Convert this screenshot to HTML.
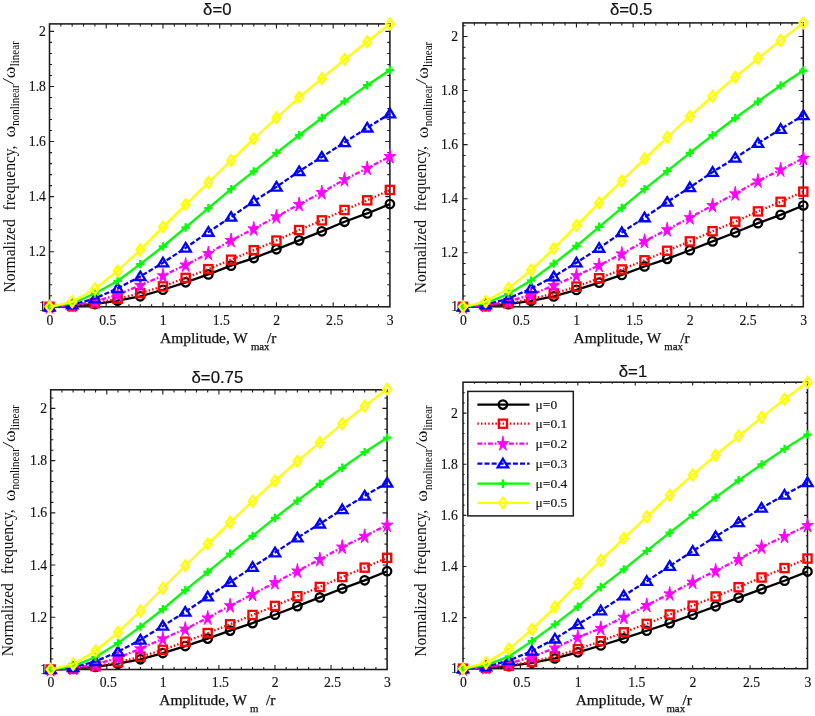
<!DOCTYPE html>
<html lang="en">
<head>
<meta charset="utf-8">
<title>Normalized frequency versus amplitude</title>
<style>
html,body{margin:0;padding:0;background:#fff;}
body{width:815px;height:716px;overflow:hidden;}
svg{display:block;}
</style>
</head>
<body>
<svg width="815" height="716" viewBox="0 0 815 716">
<rect width="815" height="716" fill="#ffffff"/>
<path d="M60.85 306.8v-2.6M60.85 23.9v2.6M72.19 306.8v-2.6M72.19 23.9v2.6M83.54 306.8v-2.6M83.54 23.9v2.6M94.89 306.8v-2.6M94.89 23.9v2.6M106.23 306.8v-4.6M106.23 23.9v4.6M117.58 306.8v-2.6M117.58 23.9v2.6M128.93 306.8v-2.6M128.93 23.9v2.6M140.27 306.8v-2.6M140.27 23.9v2.6M151.62 306.8v-2.6M151.62 23.9v2.6M162.97 306.8v-4.6M162.97 23.9v4.6M174.31 306.8v-2.6M174.31 23.9v2.6M185.66 306.8v-2.6M185.66 23.9v2.6M197.01 306.8v-2.6M197.01 23.9v2.6M208.35 306.8v-2.6M208.35 23.9v2.6M219.7 306.8v-4.6M219.7 23.9v4.6M231.05 306.8v-2.6M231.05 23.9v2.6M242.39 306.8v-2.6M242.39 23.9v2.6M253.74 306.8v-2.6M253.74 23.9v2.6M265.09 306.8v-2.6M265.09 23.9v2.6M276.43 306.8v-4.6M276.43 23.9v4.6M287.78 306.8v-2.6M287.78 23.9v2.6M299.13 306.8v-2.6M299.13 23.9v2.6M310.47 306.8v-2.6M310.47 23.9v2.6M321.82 306.8v-2.6M321.82 23.9v2.6M333.17 306.8v-4.6M333.17 23.9v4.6M344.51 306.8v-2.6M344.51 23.9v2.6M355.86 306.8v-2.6M355.86 23.9v2.6M367.21 306.8v-2.6M367.21 23.9v2.6M378.55 306.8v-2.6M378.55 23.9v2.6M49.5 295.78h2.6M389.9 295.78h-2.6M49.5 284.77h2.6M389.9 284.77h-2.6M49.5 273.75h2.6M389.9 273.75h-2.6M49.5 262.74h2.6M389.9 262.74h-2.6M49.5 251.72h4.6M389.9 251.72h-4.6M49.5 240.7h2.6M389.9 240.7h-2.6M49.5 229.69h2.6M389.9 229.69h-2.6M49.5 218.67h2.6M389.9 218.67h-2.6M49.5 207.66h2.6M389.9 207.66h-2.6M49.5 196.64h4.6M389.9 196.64h-4.6M49.5 185.62h2.6M389.9 185.62h-2.6M49.5 174.61h2.6M389.9 174.61h-2.6M49.5 163.59h2.6M389.9 163.59h-2.6M49.5 152.58h2.6M389.9 152.58h-2.6M49.5 141.56h4.6M389.9 141.56h-4.6M49.5 130.54h2.6M389.9 130.54h-2.6M49.5 119.53h2.6M389.9 119.53h-2.6M49.5 108.51h2.6M389.9 108.51h-2.6M49.5 97.5h2.6M389.9 97.5h-2.6M49.5 86.48h4.6M389.9 86.48h-4.6M49.5 75.46h2.6M389.9 75.46h-2.6M49.5 64.45h2.6M389.9 64.45h-2.6M49.5 53.43h2.6M389.9 53.43h-2.6M49.5 42.42h2.6M389.9 42.42h-2.6M49.5 31.4h4.6M389.9 31.4h-4.6" stroke="#1c1c1c" stroke-width="1.1" fill="none"/>
<rect x="49.5" y="23.9" width="340.4" height="282.9" fill="none" stroke="#1c1c1c" stroke-width="1.55"/>
<g font-family="'Liberation Serif', serif" font-size="13.7" fill="#111" stroke="#111" stroke-width="0.15">
<text x="49.8" y="325" text-anchor="middle">0</text>
<text x="107.73" y="325" text-anchor="middle">0.5</text>
<text x="163.27" y="325" text-anchor="middle">1</text>
<text x="221.2" y="325" text-anchor="middle">1.5</text>
<text x="276.73" y="325" text-anchor="middle">2</text>
<text x="334.67" y="325" text-anchor="middle">2.5</text>
<text x="390.2" y="325" text-anchor="middle">3</text>
<text x="45.9" y="311.3" text-anchor="end">1</text>
<text x="45.9" y="256.22" text-anchor="end">1.2</text>
<text x="45.9" y="201.14" text-anchor="end">1.4</text>
<text x="45.9" y="146.06" text-anchor="end">1.6</text>
<text x="45.9" y="90.98" text-anchor="end">1.8</text>
<text x="45.9" y="35.9" text-anchor="end">2</text>
</g>
<text x="217.3" y="14.7" text-anchor="middle" font-family="'Liberation Sans', sans-serif" font-size="16.8" fill="#111" stroke="#111" stroke-width="0.2">δ=0</text>
<text y="342.8" font-family="'Liberation Serif', serif" font-size="15.4" fill="#111" stroke="#111" stroke-width="0.25"><tspan x="160.1">Amplitude, W</tspan><tspan x="250.9" dy="7" font-size="10.8">max</tspan><tspan x="266.9" dy="-7">/r</tspan></text>
<g transform="rotate(-90)" font-family="'Liberation Serif', serif" fill="#111">
<text x="-292.55" y="14.5" font-size="15.9" textLength="73.2" lengthAdjust="spacingAndGlyphs">Normalized</text>
<text x="-210.55" y="14.5" font-size="15.9" textLength="65" lengthAdjust="spacingAndGlyphs">frequency,</text>
<text x="-137.55" y="15" font-size="17" textLength="11.6" lengthAdjust="spacingAndGlyphs">ω</text>
<text x="-125.75" y="19.4" font-size="11.6" textLength="41.4" lengthAdjust="spacingAndGlyphs">nonlinear</text>
<text x="-84.15" y="13.4" font-size="15.5" textLength="6.3" lengthAdjust="spacingAndGlyphs">/</text>
<text x="-78.15" y="15" font-size="17" textLength="11.6" lengthAdjust="spacingAndGlyphs">ω</text>
<text x="-66.35" y="19.4" font-size="11.6" textLength="25.2" lengthAdjust="spacingAndGlyphs">linear</text>
</g>
<polyline points="49.5,306.8 72.19,306.11 94.89,304.05 117.58,300.74 140.27,296.33 162.97,289.73 185.66,282.34 208.35,274.44 231.05,265.63 253.74,258.05 276.43,249.32 299.13,240.35 321.82,231.34 344.51,221.78 367.21,213.44 389.9,204.08" fill="none" stroke="#000000" stroke-width="2.3"/>
<circle cx="49.5" cy="306.8" r="4.2" fill="none" stroke="#000000" stroke-width="2.3"/>
<circle cx="72.19" cy="306.11" r="4.2" fill="none" stroke="#000000" stroke-width="2.3"/>
<circle cx="94.89" cy="304.05" r="4.2" fill="none" stroke="#000000" stroke-width="2.3"/>
<circle cx="117.58" cy="300.74" r="4.2" fill="none" stroke="#000000" stroke-width="2.3"/>
<circle cx="140.27" cy="296.33" r="4.2" fill="none" stroke="#000000" stroke-width="2.3"/>
<circle cx="162.97" cy="289.73" r="4.2" fill="none" stroke="#000000" stroke-width="2.3"/>
<circle cx="185.66" cy="282.34" r="4.2" fill="none" stroke="#000000" stroke-width="2.3"/>
<circle cx="208.35" cy="274.44" r="4.2" fill="none" stroke="#000000" stroke-width="2.3"/>
<circle cx="231.05" cy="265.63" r="4.2" fill="none" stroke="#000000" stroke-width="2.3"/>
<circle cx="253.74" cy="258.05" r="4.2" fill="none" stroke="#000000" stroke-width="2.3"/>
<circle cx="276.43" cy="249.32" r="4.2" fill="none" stroke="#000000" stroke-width="2.3"/>
<circle cx="299.13" cy="240.35" r="4.2" fill="none" stroke="#000000" stroke-width="2.3"/>
<circle cx="321.82" cy="231.34" r="4.2" fill="none" stroke="#000000" stroke-width="2.3"/>
<circle cx="344.51" cy="221.78" r="4.2" fill="none" stroke="#000000" stroke-width="2.3"/>
<circle cx="367.21" cy="213.44" r="4.2" fill="none" stroke="#000000" stroke-width="2.3"/>
<circle cx="389.9" cy="204.08" r="4.2" fill="none" stroke="#000000" stroke-width="2.3"/>
<polyline points="49.5,306.8 72.19,305.97 94.89,303.22 117.58,298.81 140.27,293.17 162.97,286.42 185.66,277.88 208.35,269.15 231.05,259.71 253.74,250.18 276.43,240.57 299.13,230.05 321.82,220.38 344.51,209.97 367.21,200.33 389.9,189.92" fill="none" stroke="#ff0000" stroke-width="2.3" stroke-dasharray="1.5 2.1"/>
<rect x="45.4" y="302.7" width="8.2" height="8.2" fill="none" stroke="#ff0000" stroke-width="2.3"/>
<rect x="68.09" y="301.87" width="8.2" height="8.2" fill="none" stroke="#ff0000" stroke-width="2.3"/>
<rect x="90.79" y="299.12" width="8.2" height="8.2" fill="none" stroke="#ff0000" stroke-width="2.3"/>
<rect x="113.48" y="294.71" width="8.2" height="8.2" fill="none" stroke="#ff0000" stroke-width="2.3"/>
<rect x="136.17" y="289.07" width="8.2" height="8.2" fill="none" stroke="#ff0000" stroke-width="2.3"/>
<rect x="158.87" y="282.32" width="8.2" height="8.2" fill="none" stroke="#ff0000" stroke-width="2.3"/>
<rect x="181.56" y="273.78" width="8.2" height="8.2" fill="none" stroke="#ff0000" stroke-width="2.3"/>
<rect x="204.25" y="265.05" width="8.2" height="8.2" fill="none" stroke="#ff0000" stroke-width="2.3"/>
<rect x="226.95" y="255.61" width="8.2" height="8.2" fill="none" stroke="#ff0000" stroke-width="2.3"/>
<rect x="249.64" y="246.08" width="8.2" height="8.2" fill="none" stroke="#ff0000" stroke-width="2.3"/>
<rect x="272.33" y="236.47" width="8.2" height="8.2" fill="none" stroke="#ff0000" stroke-width="2.3"/>
<rect x="295.03" y="225.95" width="8.2" height="8.2" fill="none" stroke="#ff0000" stroke-width="2.3"/>
<rect x="317.72" y="216.28" width="8.2" height="8.2" fill="none" stroke="#ff0000" stroke-width="2.3"/>
<rect x="340.41" y="205.87" width="8.2" height="8.2" fill="none" stroke="#ff0000" stroke-width="2.3"/>
<rect x="363.11" y="196.23" width="8.2" height="8.2" fill="none" stroke="#ff0000" stroke-width="2.3"/>
<rect x="385.8" y="185.82" width="8.2" height="8.2" fill="none" stroke="#ff0000" stroke-width="2.3"/>
<polyline points="49.5,306.8 72.19,305.42 94.89,301.57 117.58,294.68 140.27,285.32 162.97,275.68 185.66,264.94 208.35,253.43 231.05,240.43 253.74,228.86 276.43,216.74 299.13,204.35 321.82,192.51 344.51,179.57 367.21,168.27 389.9,156.49" fill="none" stroke="#ff00ff" stroke-width="2.3" stroke-dasharray="5 1.9 1.7 1.9"/>
<polygon points="49.5,299.4 50.7,305.05 55.21,304.79 51.44,308.02 53.03,313.51 49.5,309.85 45.97,313.51 47.56,308.02 43.79,304.79 48.3,305.05" fill="#ff00ff" stroke="#ff00ff" stroke-width="1" stroke-linejoin="miter"/>
<polygon points="72.19,298.02 73.39,303.68 77.9,303.41 74.13,306.64 75.72,312.13 72.19,308.48 68.67,312.13 70.25,306.64 66.49,303.41 70.99,303.68" fill="#ff00ff" stroke="#ff00ff" stroke-width="1" stroke-linejoin="miter"/>
<polygon points="94.89,294.17 96.09,299.82 100.59,299.56 96.83,302.79 98.41,308.28 94.89,304.62 91.36,308.28 92.95,302.79 89.18,299.56 93.69,299.82" fill="#ff00ff" stroke="#ff00ff" stroke-width="1" stroke-linejoin="miter"/>
<polygon points="117.58,287.28 118.78,292.94 123.29,292.67 119.52,295.9 121.11,301.39 117.58,297.73 114.05,301.39 115.64,295.9 111.87,292.67 116.38,292.94" fill="#ff00ff" stroke="#ff00ff" stroke-width="1" stroke-linejoin="miter"/>
<polygon points="140.27,277.92 141.47,283.57 145.98,283.31 142.21,286.54 143.8,292.03 140.27,288.37 136.75,292.03 138.33,286.54 134.57,283.31 139.07,283.57" fill="#ff00ff" stroke="#ff00ff" stroke-width="1" stroke-linejoin="miter"/>
<polygon points="162.97,268.28 164.17,273.93 168.67,273.67 164.91,276.9 166.49,282.39 162.97,278.73 159.44,282.39 161.03,276.9 157.26,273.67 161.77,273.93" fill="#ff00ff" stroke="#ff00ff" stroke-width="1" stroke-linejoin="miter"/>
<polygon points="185.66,257.54 186.86,263.19 191.37,262.93 187.6,266.16 189.19,271.65 185.66,267.99 182.13,271.65 183.72,266.16 179.95,262.93 184.46,263.19" fill="#ff00ff" stroke="#ff00ff" stroke-width="1" stroke-linejoin="miter"/>
<polygon points="208.35,246.03 209.55,251.68 214.06,251.42 210.29,254.65 211.88,260.14 208.35,256.48 204.83,260.14 206.41,254.65 202.65,251.42 207.15,251.68" fill="#ff00ff" stroke="#ff00ff" stroke-width="1" stroke-linejoin="miter"/>
<polygon points="231.05,233.03 232.25,238.68 236.75,238.42 232.99,241.65 234.57,247.14 231.05,243.48 227.52,247.14 229.11,241.65 225.34,238.42 229.85,238.68" fill="#ff00ff" stroke="#ff00ff" stroke-width="1" stroke-linejoin="miter"/>
<polygon points="253.74,221.46 254.94,227.12 259.45,226.85 255.68,230.08 257.27,235.57 253.74,231.91 250.21,235.57 251.8,230.08 248.03,226.85 252.54,227.12" fill="#ff00ff" stroke="#ff00ff" stroke-width="1" stroke-linejoin="miter"/>
<polygon points="276.43,209.34 277.63,215 282.14,214.73 278.37,217.96 279.96,223.45 276.43,219.8 272.91,223.45 274.49,217.96 270.73,214.73 275.23,215" fill="#ff00ff" stroke="#ff00ff" stroke-width="1" stroke-linejoin="miter"/>
<polygon points="299.13,196.95 300.33,202.61 304.83,202.34 301.07,205.57 302.65,211.06 299.13,207.4 295.6,211.06 297.19,205.57 293.42,202.34 297.93,202.61" fill="#ff00ff" stroke="#ff00ff" stroke-width="1" stroke-linejoin="miter"/>
<polygon points="321.82,185.11 323.02,190.76 327.53,190.5 323.76,193.73 325.35,199.22 321.82,195.56 318.29,199.22 319.88,193.73 316.11,190.5 320.62,190.76" fill="#ff00ff" stroke="#ff00ff" stroke-width="1" stroke-linejoin="miter"/>
<polygon points="344.51,172.17 345.71,177.82 350.22,177.55 346.45,180.78 348.04,186.28 344.51,182.62 340.99,186.28 342.57,180.78 338.81,177.55 343.31,177.82" fill="#ff00ff" stroke="#ff00ff" stroke-width="1" stroke-linejoin="miter"/>
<polygon points="367.21,160.87 368.41,166.53 372.91,166.26 369.15,169.49 370.73,174.98 367.21,171.33 363.68,174.98 365.27,169.49 361.5,166.26 366.01,166.53" fill="#ff00ff" stroke="#ff00ff" stroke-width="1" stroke-linejoin="miter"/>
<polygon points="389.9,149.09 391.1,154.74 395.61,154.48 391.84,157.71 393.43,163.2 389.9,159.54 386.37,163.2 387.96,157.71 384.19,154.48 388.7,154.74" fill="#ff00ff" stroke="#ff00ff" stroke-width="1" stroke-linejoin="miter"/>
<polyline points="49.5,306.8 72.19,304.6 94.89,298.54 117.58,288.35 140.27,276.51 162.97,262.74 185.66,247.86 208.35,232.03 231.05,217.02 253.74,201.32 276.43,186.86 299.13,171.3 321.82,156.98 344.51,142.39 367.21,127.79 389.9,113.61" fill="none" stroke="#0000ff" stroke-width="2.3" stroke-dasharray="5 2.1"/>
<polygon points="49.5,301.9 54.7,310.5 44.3,310.5" fill="none" stroke="#0000ff" stroke-width="2.3" stroke-linejoin="miter"/>
<polygon points="72.19,299.7 77.39,308.3 66.99,308.3" fill="none" stroke="#0000ff" stroke-width="2.3" stroke-linejoin="miter"/>
<polygon points="94.89,293.64 100.09,302.24 89.69,302.24" fill="none" stroke="#0000ff" stroke-width="2.3" stroke-linejoin="miter"/>
<polygon points="117.58,283.45 122.78,292.05 112.38,292.05" fill="none" stroke="#0000ff" stroke-width="2.3" stroke-linejoin="miter"/>
<polygon points="140.27,271.61 145.47,280.21 135.07,280.21" fill="none" stroke="#0000ff" stroke-width="2.3" stroke-linejoin="miter"/>
<polygon points="162.97,257.84 168.17,266.44 157.77,266.44" fill="none" stroke="#0000ff" stroke-width="2.3" stroke-linejoin="miter"/>
<polygon points="185.66,242.96 190.86,251.56 180.46,251.56" fill="none" stroke="#0000ff" stroke-width="2.3" stroke-linejoin="miter"/>
<polygon points="208.35,227.13 213.55,235.73 203.15,235.73" fill="none" stroke="#0000ff" stroke-width="2.3" stroke-linejoin="miter"/>
<polygon points="231.05,212.12 236.25,220.72 225.85,220.72" fill="none" stroke="#0000ff" stroke-width="2.3" stroke-linejoin="miter"/>
<polygon points="253.74,196.42 258.94,205.02 248.54,205.02" fill="none" stroke="#0000ff" stroke-width="2.3" stroke-linejoin="miter"/>
<polygon points="276.43,181.96 281.63,190.56 271.23,190.56" fill="none" stroke="#0000ff" stroke-width="2.3" stroke-linejoin="miter"/>
<polygon points="299.13,166.4 304.33,175 293.93,175" fill="none" stroke="#0000ff" stroke-width="2.3" stroke-linejoin="miter"/>
<polygon points="321.82,152.08 327.02,160.68 316.62,160.68" fill="none" stroke="#0000ff" stroke-width="2.3" stroke-linejoin="miter"/>
<polygon points="344.51,137.49 349.71,146.09 339.31,146.09" fill="none" stroke="#0000ff" stroke-width="2.3" stroke-linejoin="miter"/>
<polygon points="367.21,122.89 372.41,131.49 362.01,131.49" fill="none" stroke="#0000ff" stroke-width="2.3" stroke-linejoin="miter"/>
<polygon points="389.9,108.71 395.1,117.31 384.7,117.31" fill="none" stroke="#0000ff" stroke-width="2.3" stroke-linejoin="miter"/>
<polyline points="49.5,306.8 72.19,303.5 94.89,293.58 117.58,280.91 140.27,264.11 162.97,246.49 185.66,227.48 208.35,208.21 231.05,189.2 253.74,171.41 276.43,152.85 299.13,135.23 321.82,118.01 344.51,101.35 367.21,85.19 389.9,69.96" fill="none" stroke="#00ff00" stroke-width="2.3"/>
<path d="M45.3 306.8H53.7M49.5 302.6V311" fill="none" stroke="#00ff00" stroke-width="2.3"/>
<path d="M67.99 303.5H76.39M72.19 299.3V307.7" fill="none" stroke="#00ff00" stroke-width="2.3"/>
<path d="M90.69 293.58H99.09M94.89 289.38V297.78" fill="none" stroke="#00ff00" stroke-width="2.3"/>
<path d="M113.38 280.91H121.78M117.58 276.71V285.11" fill="none" stroke="#00ff00" stroke-width="2.3"/>
<path d="M136.07 264.11H144.47M140.27 259.91V268.31" fill="none" stroke="#00ff00" stroke-width="2.3"/>
<path d="M158.77 246.49H167.17M162.97 242.29V250.69" fill="none" stroke="#00ff00" stroke-width="2.3"/>
<path d="M181.46 227.48H189.86M185.66 223.28V231.68" fill="none" stroke="#00ff00" stroke-width="2.3"/>
<path d="M204.15 208.21H212.55M208.35 204.01V212.41" fill="none" stroke="#00ff00" stroke-width="2.3"/>
<path d="M226.85 189.2H235.25M231.05 185V193.4" fill="none" stroke="#00ff00" stroke-width="2.3"/>
<path d="M249.54 171.41H257.94M253.74 167.21V175.61" fill="none" stroke="#00ff00" stroke-width="2.3"/>
<path d="M272.23 152.85H280.63M276.43 148.65V157.05" fill="none" stroke="#00ff00" stroke-width="2.3"/>
<path d="M294.93 135.23H303.33M299.13 131.03V139.43" fill="none" stroke="#00ff00" stroke-width="2.3"/>
<path d="M317.62 118.01H326.02M321.82 113.81V122.21" fill="none" stroke="#00ff00" stroke-width="2.3"/>
<path d="M340.31 101.35H348.71M344.51 97.15V105.55" fill="none" stroke="#00ff00" stroke-width="2.3"/>
<path d="M363.01 85.19H371.41M367.21 80.99V89.39" fill="none" stroke="#00ff00" stroke-width="2.3"/>
<path d="M385.7 69.96H394.1M389.9 65.76V74.16" fill="none" stroke="#00ff00" stroke-width="2.3"/>
<polyline points="49.5,306.8 72.19,301.84 94.89,288.9 117.58,271 140.27,249.79 162.97,226.93 185.66,204.63 208.35,182.59 231.05,160.42 253.74,138.81 276.43,117.74 299.13,97.36 321.82,78.49 344.51,59.6 367.21,41.73 389.9,23.96" fill="none" stroke="#ffff00" stroke-width="2.3"/>
<polygon points="49.5,301.5 53.4,306.8 49.5,312.1 45.6,306.8" fill="none" stroke="#ffff00" stroke-width="2.3" stroke-linejoin="miter"/>
<polygon points="72.19,296.54 76.09,301.84 72.19,307.14 68.29,301.84" fill="none" stroke="#ffff00" stroke-width="2.3" stroke-linejoin="miter"/>
<polygon points="94.89,283.6 98.79,288.9 94.89,294.2 90.99,288.9" fill="none" stroke="#ffff00" stroke-width="2.3" stroke-linejoin="miter"/>
<polygon points="117.58,265.7 121.48,271 117.58,276.3 113.68,271" fill="none" stroke="#ffff00" stroke-width="2.3" stroke-linejoin="miter"/>
<polygon points="140.27,244.49 144.17,249.79 140.27,255.09 136.37,249.79" fill="none" stroke="#ffff00" stroke-width="2.3" stroke-linejoin="miter"/>
<polygon points="162.97,221.63 166.87,226.93 162.97,232.23 159.07,226.93" fill="none" stroke="#ffff00" stroke-width="2.3" stroke-linejoin="miter"/>
<polygon points="185.66,199.33 189.56,204.63 185.66,209.93 181.76,204.63" fill="none" stroke="#ffff00" stroke-width="2.3" stroke-linejoin="miter"/>
<polygon points="208.35,177.29 212.25,182.59 208.35,187.89 204.45,182.59" fill="none" stroke="#ffff00" stroke-width="2.3" stroke-linejoin="miter"/>
<polygon points="231.05,155.12 234.95,160.42 231.05,165.72 227.15,160.42" fill="none" stroke="#ffff00" stroke-width="2.3" stroke-linejoin="miter"/>
<polygon points="253.74,133.51 257.64,138.81 253.74,144.11 249.84,138.81" fill="none" stroke="#ffff00" stroke-width="2.3" stroke-linejoin="miter"/>
<polygon points="276.43,112.44 280.33,117.74 276.43,123.04 272.53,117.74" fill="none" stroke="#ffff00" stroke-width="2.3" stroke-linejoin="miter"/>
<polygon points="299.13,92.06 303.03,97.36 299.13,102.66 295.23,97.36" fill="none" stroke="#ffff00" stroke-width="2.3" stroke-linejoin="miter"/>
<polygon points="321.82,73.19 325.72,78.49 321.82,83.79 317.92,78.49" fill="none" stroke="#ffff00" stroke-width="2.3" stroke-linejoin="miter"/>
<polygon points="344.51,54.3 348.41,59.6 344.51,64.9 340.61,59.6" fill="none" stroke="#ffff00" stroke-width="2.3" stroke-linejoin="miter"/>
<polygon points="367.21,36.43 371.11,41.73 367.21,47.03 363.31,41.73" fill="none" stroke="#ffff00" stroke-width="2.3" stroke-linejoin="miter"/>
<polygon points="389.9,18.66 393.8,23.96 389.9,29.26 386,23.96" fill="none" stroke="#ffff00" stroke-width="2.3" stroke-linejoin="miter"/>
<path d="M474.34 306.8v-2.6M474.34 22.9v2.6M485.69 306.8v-2.6M485.69 22.9v2.6M497.03 306.8v-2.6M497.03 22.9v2.6M508.37 306.8v-2.6M508.37 22.9v2.6M519.72 306.8v-4.6M519.72 22.9v4.6M531.06 306.8v-2.6M531.06 22.9v2.6M542.4 306.8v-2.6M542.4 22.9v2.6M553.75 306.8v-2.6M553.75 22.9v2.6M565.09 306.8v-2.6M565.09 22.9v2.6M576.43 306.8v-4.6M576.43 22.9v4.6M587.78 306.8v-2.6M587.78 22.9v2.6M599.12 306.8v-2.6M599.12 22.9v2.6M610.46 306.8v-2.6M610.46 22.9v2.6M621.81 306.8v-2.6M621.81 22.9v2.6M633.15 306.8v-4.6M633.15 22.9v4.6M644.49 306.8v-2.6M644.49 22.9v2.6M655.84 306.8v-2.6M655.84 22.9v2.6M667.18 306.8v-2.6M667.18 22.9v2.6M678.52 306.8v-2.6M678.52 22.9v2.6M689.87 306.8v-4.6M689.87 22.9v4.6M701.21 306.8v-2.6M701.21 22.9v2.6M712.55 306.8v-2.6M712.55 22.9v2.6M723.9 306.8v-2.6M723.9 22.9v2.6M735.24 306.8v-2.6M735.24 22.9v2.6M746.58 306.8v-4.6M746.58 22.9v4.6M757.93 306.8v-2.6M757.93 22.9v2.6M769.27 306.8v-2.6M769.27 22.9v2.6M780.61 306.8v-2.6M780.61 22.9v2.6M791.96 306.8v-2.6M791.96 22.9v2.6M463 295.99h2.6M803.3 295.99h-2.6M463 285.18h2.6M803.3 285.18h-2.6M463 274.36h2.6M803.3 274.36h-2.6M463 263.55h2.6M803.3 263.55h-2.6M463 252.74h4.6M803.3 252.74h-4.6M463 241.93h2.6M803.3 241.93h-2.6M463 231.12h2.6M803.3 231.12h-2.6M463 220.3h2.6M803.3 220.3h-2.6M463 209.49h2.6M803.3 209.49h-2.6M463 198.68h4.6M803.3 198.68h-4.6M463 187.87h2.6M803.3 187.87h-2.6M463 177.06h2.6M803.3 177.06h-2.6M463 166.24h2.6M803.3 166.24h-2.6M463 155.43h2.6M803.3 155.43h-2.6M463 144.62h4.6M803.3 144.62h-4.6M463 133.81h2.6M803.3 133.81h-2.6M463 123h2.6M803.3 123h-2.6M463 112.18h2.6M803.3 112.18h-2.6M463 101.37h2.6M803.3 101.37h-2.6M463 90.56h4.6M803.3 90.56h-4.6M463 79.75h2.6M803.3 79.75h-2.6M463 68.94h2.6M803.3 68.94h-2.6M463 58.12h2.6M803.3 58.12h-2.6M463 47.31h2.6M803.3 47.31h-2.6M463 36.5h4.6M803.3 36.5h-4.6M463 25.69h2.6M803.3 25.69h-2.6" stroke="#1c1c1c" stroke-width="1.1" fill="none"/>
<rect x="463" y="22.9" width="340.3" height="283.9" fill="none" stroke="#1c1c1c" stroke-width="1.55"/>
<g font-family="'Liberation Serif', serif" font-size="13.7" fill="#111" stroke="#111" stroke-width="0.15">
<text x="463.3" y="325" text-anchor="middle">0</text>
<text x="521.22" y="325" text-anchor="middle">0.5</text>
<text x="576.73" y="325" text-anchor="middle">1</text>
<text x="634.65" y="325" text-anchor="middle">1.5</text>
<text x="690.17" y="325" text-anchor="middle">2</text>
<text x="748.08" y="325" text-anchor="middle">2.5</text>
<text x="803.6" y="325" text-anchor="middle">3</text>
<text x="458.1" y="311.3" text-anchor="end">1</text>
<text x="458.1" y="257.24" text-anchor="end">1.2</text>
<text x="458.1" y="203.18" text-anchor="end">1.4</text>
<text x="458.1" y="149.12" text-anchor="end">1.6</text>
<text x="458.1" y="95.06" text-anchor="end">1.8</text>
<text x="458.1" y="41" text-anchor="end">2</text>
</g>
<text x="631.2" y="14.7" text-anchor="middle" font-family="'Liberation Sans', sans-serif" font-size="16.8" fill="#111" stroke="#111" stroke-width="0.2">δ=0.5</text>
<text y="342.8" font-family="'Liberation Serif', serif" font-size="15.4" fill="#111" stroke="#111" stroke-width="0.25"><tspan x="573.55">Amplitude, W</tspan><tspan x="664.35" dy="7" font-size="10.8">max</tspan><tspan x="680.35" dy="-7">/r</tspan></text>
<g transform="rotate(-90)" font-family="'Liberation Serif', serif" fill="#111">
<text x="-293.15" y="426" font-size="15.9" textLength="73.2" lengthAdjust="spacingAndGlyphs">Normalized</text>
<text x="-211.15" y="426" font-size="15.9" textLength="65" lengthAdjust="spacingAndGlyphs">frequency,</text>
<text x="-138.15" y="427.5" font-size="17" textLength="11.6" lengthAdjust="spacingAndGlyphs">ω</text>
<text x="-126.35" y="431.9" font-size="11.6" textLength="41.4" lengthAdjust="spacingAndGlyphs">nonlinear</text>
<text x="-84.75" y="425.9" font-size="15.5" textLength="6.3" lengthAdjust="spacingAndGlyphs">/</text>
<text x="-78.75" y="427.5" font-size="17" textLength="11.6" lengthAdjust="spacingAndGlyphs">ω</text>
<text x="-66.95" y="431.9" font-size="11.6" textLength="25.2" lengthAdjust="spacingAndGlyphs">linear</text>
</g>
<polyline points="463,306.8 485.69,306.12 508.37,304.1 531.06,300.79 553.75,296.39 576.43,289.91 599.12,282.67 621.81,274.94 644.49,266.46 667.18,258.86 689.87,250.23 712.55,241.39 735.24,232.47 757.93,223.18 780.61,214.83 803.3,205.51" fill="none" stroke="#000000" stroke-width="2.3"/>
<circle cx="463" cy="306.8" r="4.2" fill="none" stroke="#000000" stroke-width="2.3"/>
<circle cx="485.69" cy="306.12" r="4.2" fill="none" stroke="#000000" stroke-width="2.3"/>
<circle cx="508.37" cy="304.1" r="4.2" fill="none" stroke="#000000" stroke-width="2.3"/>
<circle cx="531.06" cy="300.79" r="4.2" fill="none" stroke="#000000" stroke-width="2.3"/>
<circle cx="553.75" cy="296.39" r="4.2" fill="none" stroke="#000000" stroke-width="2.3"/>
<circle cx="576.43" cy="289.91" r="4.2" fill="none" stroke="#000000" stroke-width="2.3"/>
<circle cx="599.12" cy="282.67" r="4.2" fill="none" stroke="#000000" stroke-width="2.3"/>
<circle cx="621.81" cy="274.94" r="4.2" fill="none" stroke="#000000" stroke-width="2.3"/>
<circle cx="644.49" cy="266.46" r="4.2" fill="none" stroke="#000000" stroke-width="2.3"/>
<circle cx="667.18" cy="258.86" r="4.2" fill="none" stroke="#000000" stroke-width="2.3"/>
<circle cx="689.87" cy="250.23" r="4.2" fill="none" stroke="#000000" stroke-width="2.3"/>
<circle cx="712.55" cy="241.39" r="4.2" fill="none" stroke="#000000" stroke-width="2.3"/>
<circle cx="735.24" cy="232.47" r="4.2" fill="none" stroke="#000000" stroke-width="2.3"/>
<circle cx="757.93" cy="223.18" r="4.2" fill="none" stroke="#000000" stroke-width="2.3"/>
<circle cx="780.61" cy="214.83" r="4.2" fill="none" stroke="#000000" stroke-width="2.3"/>
<circle cx="803.3" cy="205.51" r="4.2" fill="none" stroke="#000000" stroke-width="2.3"/>
<polyline points="463,306.8 485.69,305.99 508.37,303.35 531.06,299.1 553.75,293.52 576.43,286.63 599.12,278.24 621.81,269.47 644.49,260.29 667.18,250.79 689.87,241.39 712.55,231.21 735.24,221.65 757.93,211.41 780.61,201.82 803.3,191.64" fill="none" stroke="#ff0000" stroke-width="2.3" stroke-dasharray="1.5 2.1"/>
<rect x="458.9" y="302.7" width="8.2" height="8.2" fill="none" stroke="#ff0000" stroke-width="2.3"/>
<rect x="481.59" y="301.89" width="8.2" height="8.2" fill="none" stroke="#ff0000" stroke-width="2.3"/>
<rect x="504.27" y="299.25" width="8.2" height="8.2" fill="none" stroke="#ff0000" stroke-width="2.3"/>
<rect x="526.96" y="295" width="8.2" height="8.2" fill="none" stroke="#ff0000" stroke-width="2.3"/>
<rect x="549.65" y="289.42" width="8.2" height="8.2" fill="none" stroke="#ff0000" stroke-width="2.3"/>
<rect x="572.33" y="282.53" width="8.2" height="8.2" fill="none" stroke="#ff0000" stroke-width="2.3"/>
<rect x="595.02" y="274.14" width="8.2" height="8.2" fill="none" stroke="#ff0000" stroke-width="2.3"/>
<rect x="617.71" y="265.37" width="8.2" height="8.2" fill="none" stroke="#ff0000" stroke-width="2.3"/>
<rect x="640.39" y="256.19" width="8.2" height="8.2" fill="none" stroke="#ff0000" stroke-width="2.3"/>
<rect x="663.08" y="246.69" width="8.2" height="8.2" fill="none" stroke="#ff0000" stroke-width="2.3"/>
<rect x="685.77" y="237.29" width="8.2" height="8.2" fill="none" stroke="#ff0000" stroke-width="2.3"/>
<rect x="708.45" y="227.11" width="8.2" height="8.2" fill="none" stroke="#ff0000" stroke-width="2.3"/>
<rect x="731.14" y="217.55" width="8.2" height="8.2" fill="none" stroke="#ff0000" stroke-width="2.3"/>
<rect x="753.83" y="207.31" width="8.2" height="8.2" fill="none" stroke="#ff0000" stroke-width="2.3"/>
<rect x="776.51" y="197.72" width="8.2" height="8.2" fill="none" stroke="#ff0000" stroke-width="2.3"/>
<rect x="799.2" y="187.54" width="8.2" height="8.2" fill="none" stroke="#ff0000" stroke-width="2.3"/>
<polyline points="463,306.8 485.69,305.45 508.37,301.6 531.06,294.77 553.75,285.51 576.43,275.58 599.12,265.31 621.81,253.9 644.49,241.18 667.18,229.63 689.87,217.6 712.55,205.51 735.24,193.75 757.93,180.96 780.61,169.83 803.3,158.28" fill="none" stroke="#ff00ff" stroke-width="2.3" stroke-dasharray="5 1.9 1.7 1.9"/>
<polygon points="463,299.4 464.2,305.05 468.71,304.79 464.94,308.02 466.53,313.51 463,309.85 459.47,313.51 461.06,308.02 457.29,304.79 461.8,305.05" fill="#ff00ff" stroke="#ff00ff" stroke-width="1" stroke-linejoin="miter"/>
<polygon points="485.69,298.05 486.89,303.7 491.39,303.44 487.63,306.67 489.21,312.16 485.69,308.5 482.16,312.16 483.75,306.67 479.98,303.44 484.49,303.7" fill="#ff00ff" stroke="#ff00ff" stroke-width="1" stroke-linejoin="miter"/>
<polygon points="508.37,294.2 509.57,299.85 514.08,299.59 510.31,302.82 511.9,308.31 508.37,304.65 504.85,308.31 506.43,302.82 502.67,299.59 507.17,299.85" fill="#ff00ff" stroke="#ff00ff" stroke-width="1" stroke-linejoin="miter"/>
<polygon points="531.06,287.37 532.26,293.03 536.77,292.76 533,295.99 534.59,301.48 531.06,297.82 527.53,301.48 529.12,295.99 525.35,292.76 529.86,293.03" fill="#ff00ff" stroke="#ff00ff" stroke-width="1" stroke-linejoin="miter"/>
<polygon points="553.75,278.11 554.95,283.77 559.45,283.5 555.69,286.73 557.27,292.22 553.75,288.57 550.22,292.22 551.81,286.73 548.04,283.5 552.55,283.77" fill="#ff00ff" stroke="#ff00ff" stroke-width="1" stroke-linejoin="miter"/>
<polygon points="576.43,268.18 577.63,273.83 582.14,273.57 578.37,276.8 579.96,282.29 576.43,278.63 572.91,282.29 574.49,276.8 570.73,273.57 575.23,273.83" fill="#ff00ff" stroke="#ff00ff" stroke-width="1" stroke-linejoin="miter"/>
<polygon points="599.12,257.91 600.32,263.56 604.83,263.3 601.06,266.53 602.65,272.02 599.12,268.36 595.59,272.02 597.18,266.53 593.41,263.3 597.92,263.56" fill="#ff00ff" stroke="#ff00ff" stroke-width="1" stroke-linejoin="miter"/>
<polygon points="621.81,246.5 623.01,252.15 627.51,251.89 623.75,255.12 625.33,260.61 621.81,256.95 618.28,260.61 619.87,255.12 616.1,251.89 620.61,252.15" fill="#ff00ff" stroke="#ff00ff" stroke-width="1" stroke-linejoin="miter"/>
<polygon points="644.49,233.78 645.69,239.44 650.2,239.17 646.43,242.4 648.02,247.9 644.49,244.24 640.97,247.9 642.55,242.4 638.79,239.17 643.29,239.44" fill="#ff00ff" stroke="#ff00ff" stroke-width="1" stroke-linejoin="miter"/>
<polygon points="667.18,222.23 668.38,227.88 672.89,227.62 669.12,230.85 670.71,236.34 667.18,232.68 663.65,236.34 665.24,230.85 661.47,227.62 665.98,227.88" fill="#ff00ff" stroke="#ff00ff" stroke-width="1" stroke-linejoin="miter"/>
<polygon points="689.87,210.2 691.07,215.86 695.57,215.59 691.81,218.82 693.39,224.31 689.87,220.65 686.34,224.31 687.93,218.82 684.16,215.59 688.67,215.86" fill="#ff00ff" stroke="#ff00ff" stroke-width="1" stroke-linejoin="miter"/>
<polygon points="712.55,198.11 713.75,203.76 718.26,203.49 714.49,206.72 716.08,212.22 712.55,208.56 709.03,212.22 710.61,206.72 706.85,203.49 711.35,203.76" fill="#ff00ff" stroke="#ff00ff" stroke-width="1" stroke-linejoin="miter"/>
<polygon points="735.24,186.35 736.44,192 740.95,191.74 737.18,194.97 738.77,200.46 735.24,196.8 731.71,200.46 733.3,194.97 729.53,191.74 734.04,192" fill="#ff00ff" stroke="#ff00ff" stroke-width="1" stroke-linejoin="miter"/>
<polygon points="757.93,173.56 759.13,179.21 763.63,178.94 759.87,182.17 761.45,187.67 757.93,184.01 754.4,187.67 755.99,182.17 752.22,178.94 756.73,179.21" fill="#ff00ff" stroke="#ff00ff" stroke-width="1" stroke-linejoin="miter"/>
<polygon points="780.61,162.43 781.81,168.08 786.32,167.82 782.55,171.04 784.14,176.54 780.61,172.88 777.09,176.54 778.67,171.04 774.91,167.82 779.41,168.08" fill="#ff00ff" stroke="#ff00ff" stroke-width="1" stroke-linejoin="miter"/>
<polygon points="803.3,150.88 804.5,156.53 809.01,156.27 805.24,159.5 806.83,164.99 803.3,161.33 799.77,164.99 801.36,159.5 797.59,156.27 802.1,156.53" fill="#ff00ff" stroke="#ff00ff" stroke-width="1" stroke-linejoin="miter"/>
<polyline points="463,306.8 485.69,304.64 508.37,298.56 531.06,288.52 553.75,276.59 576.43,262.65 599.12,248.06 621.81,232.45 644.49,217.57 667.18,202.02 689.87,187.43 712.55,172.09 735.24,157.86 757.93,143.27 780.61,129.08 803.3,115.35" fill="none" stroke="#0000ff" stroke-width="2.3" stroke-dasharray="5 2.1"/>
<polygon points="463,301.9 468.2,310.5 457.8,310.5" fill="none" stroke="#0000ff" stroke-width="2.3" stroke-linejoin="miter"/>
<polygon points="485.69,299.74 490.89,308.34 480.49,308.34" fill="none" stroke="#0000ff" stroke-width="2.3" stroke-linejoin="miter"/>
<polygon points="508.37,293.66 513.57,302.26 503.17,302.26" fill="none" stroke="#0000ff" stroke-width="2.3" stroke-linejoin="miter"/>
<polygon points="531.06,283.62 536.26,292.22 525.86,292.22" fill="none" stroke="#0000ff" stroke-width="2.3" stroke-linejoin="miter"/>
<polygon points="553.75,271.69 558.95,280.29 548.55,280.29" fill="none" stroke="#0000ff" stroke-width="2.3" stroke-linejoin="miter"/>
<polygon points="576.43,257.75 581.63,266.35 571.23,266.35" fill="none" stroke="#0000ff" stroke-width="2.3" stroke-linejoin="miter"/>
<polygon points="599.12,243.16 604.32,251.76 593.92,251.76" fill="none" stroke="#0000ff" stroke-width="2.3" stroke-linejoin="miter"/>
<polygon points="621.81,227.55 627.01,236.15 616.61,236.15" fill="none" stroke="#0000ff" stroke-width="2.3" stroke-linejoin="miter"/>
<polygon points="644.49,212.67 649.69,221.27 639.29,221.27" fill="none" stroke="#0000ff" stroke-width="2.3" stroke-linejoin="miter"/>
<polygon points="667.18,197.12 672.38,205.72 661.98,205.72" fill="none" stroke="#0000ff" stroke-width="2.3" stroke-linejoin="miter"/>
<polygon points="689.87,182.53 695.07,191.13 684.67,191.13" fill="none" stroke="#0000ff" stroke-width="2.3" stroke-linejoin="miter"/>
<polygon points="712.55,167.19 717.75,175.79 707.35,175.79" fill="none" stroke="#0000ff" stroke-width="2.3" stroke-linejoin="miter"/>
<polygon points="735.24,152.96 740.44,161.56 730.04,161.56" fill="none" stroke="#0000ff" stroke-width="2.3" stroke-linejoin="miter"/>
<polygon points="757.93,138.37 763.13,146.97 752.73,146.97" fill="none" stroke="#0000ff" stroke-width="2.3" stroke-linejoin="miter"/>
<polygon points="780.61,124.18 785.81,132.78 775.41,132.78" fill="none" stroke="#0000ff" stroke-width="2.3" stroke-linejoin="miter"/>
<polygon points="803.3,110.45 808.5,119.05 798.1,119.05" fill="none" stroke="#0000ff" stroke-width="2.3" stroke-linejoin="miter"/>
<polyline points="463,306.8 485.69,303.49 508.37,293.83 531.06,280.45 553.75,263.65 576.43,246.02 599.12,226.82 621.81,207.96 644.49,189.08 667.18,171.19 689.87,152.8 712.55,135.23 735.24,118.03 757.93,101.57 780.61,85.55 803.3,70.56" fill="none" stroke="#00ff00" stroke-width="2.3"/>
<path d="M458.8 306.8H467.2M463 302.6V311" fill="none" stroke="#00ff00" stroke-width="2.3"/>
<path d="M481.49 303.49H489.89M485.69 299.29V307.69" fill="none" stroke="#00ff00" stroke-width="2.3"/>
<path d="M504.17 293.83H512.57M508.37 289.63V298.03" fill="none" stroke="#00ff00" stroke-width="2.3"/>
<path d="M526.86 280.45H535.26M531.06 276.25V284.65" fill="none" stroke="#00ff00" stroke-width="2.3"/>
<path d="M549.55 263.65H557.95M553.75 259.45V267.85" fill="none" stroke="#00ff00" stroke-width="2.3"/>
<path d="M572.23 246.02H580.63M576.43 241.82V250.22" fill="none" stroke="#00ff00" stroke-width="2.3"/>
<path d="M594.92 226.82H603.32M599.12 222.62V231.02" fill="none" stroke="#00ff00" stroke-width="2.3"/>
<path d="M617.61 207.96H626.01M621.81 203.76V212.16" fill="none" stroke="#00ff00" stroke-width="2.3"/>
<path d="M640.29 189.08H648.69M644.49 184.88V193.28" fill="none" stroke="#00ff00" stroke-width="2.3"/>
<path d="M662.98 171.19H671.38M667.18 166.99V175.39" fill="none" stroke="#00ff00" stroke-width="2.3"/>
<path d="M685.67 152.8H694.07M689.87 148.6V157" fill="none" stroke="#00ff00" stroke-width="2.3"/>
<path d="M708.35 135.23H716.75M712.55 131.03V139.43" fill="none" stroke="#00ff00" stroke-width="2.3"/>
<path d="M731.04 118.03H739.44M735.24 113.83V122.23" fill="none" stroke="#00ff00" stroke-width="2.3"/>
<path d="M753.73 101.57H762.13M757.93 97.37V105.77" fill="none" stroke="#00ff00" stroke-width="2.3"/>
<path d="M776.41 85.55H784.81M780.61 81.35V89.75" fill="none" stroke="#00ff00" stroke-width="2.3"/>
<path d="M799.1 70.56H807.5M803.3 66.36V74.76" fill="none" stroke="#00ff00" stroke-width="2.3"/>
<polyline points="463,306.8 485.69,301.6 508.37,288.42 531.06,270.04 553.75,248.55 576.43,225.51 599.12,202.94 621.81,180.91 644.49,158.84 667.18,137.25 689.87,116.41 712.55,96.17 735.24,77.25 757.93,58.34 780.61,40.42 803.3,22.88" fill="none" stroke="#ffff00" stroke-width="2.3"/>
<polygon points="463,301.5 466.9,306.8 463,312.1 459.1,306.8" fill="none" stroke="#ffff00" stroke-width="2.3" stroke-linejoin="miter"/>
<polygon points="485.69,296.3 489.59,301.6 485.69,306.9 481.79,301.6" fill="none" stroke="#ffff00" stroke-width="2.3" stroke-linejoin="miter"/>
<polygon points="508.37,283.12 512.27,288.42 508.37,293.72 504.47,288.42" fill="none" stroke="#ffff00" stroke-width="2.3" stroke-linejoin="miter"/>
<polygon points="531.06,264.74 534.96,270.04 531.06,275.34 527.16,270.04" fill="none" stroke="#ffff00" stroke-width="2.3" stroke-linejoin="miter"/>
<polygon points="553.75,243.25 557.65,248.55 553.75,253.85 549.85,248.55" fill="none" stroke="#ffff00" stroke-width="2.3" stroke-linejoin="miter"/>
<polygon points="576.43,220.21 580.33,225.51 576.43,230.81 572.53,225.51" fill="none" stroke="#ffff00" stroke-width="2.3" stroke-linejoin="miter"/>
<polygon points="599.12,197.64 603.02,202.94 599.12,208.24 595.22,202.94" fill="none" stroke="#ffff00" stroke-width="2.3" stroke-linejoin="miter"/>
<polygon points="621.81,175.61 625.71,180.91 621.81,186.21 617.91,180.91" fill="none" stroke="#ffff00" stroke-width="2.3" stroke-linejoin="miter"/>
<polygon points="644.49,153.54 648.39,158.84 644.49,164.14 640.59,158.84" fill="none" stroke="#ffff00" stroke-width="2.3" stroke-linejoin="miter"/>
<polygon points="667.18,131.95 671.08,137.25 667.18,142.55 663.28,137.25" fill="none" stroke="#ffff00" stroke-width="2.3" stroke-linejoin="miter"/>
<polygon points="689.87,111.11 693.77,116.41 689.87,121.71 685.97,116.41" fill="none" stroke="#ffff00" stroke-width="2.3" stroke-linejoin="miter"/>
<polygon points="712.55,90.87 716.45,96.17 712.55,101.47 708.65,96.17" fill="none" stroke="#ffff00" stroke-width="2.3" stroke-linejoin="miter"/>
<polygon points="735.24,71.95 739.14,77.25 735.24,82.55 731.34,77.25" fill="none" stroke="#ffff00" stroke-width="2.3" stroke-linejoin="miter"/>
<polygon points="757.93,53.04 761.83,58.34 757.93,63.64 754.03,58.34" fill="none" stroke="#ffff00" stroke-width="2.3" stroke-linejoin="miter"/>
<polygon points="780.61,35.12 784.51,40.42 780.61,45.72 776.71,40.42" fill="none" stroke="#ffff00" stroke-width="2.3" stroke-linejoin="miter"/>
<polygon points="803.3,17.58 807.2,22.88 803.3,28.18 799.4,22.88" fill="none" stroke="#ffff00" stroke-width="2.3" stroke-linejoin="miter"/>
<path d="M61.91 669.5v-2.6M61.91 389.8v2.6M73.13 669.5v-2.6M73.13 389.8v2.6M84.34 669.5v-2.6M84.34 389.8v2.6M95.55 669.5v-2.6M95.55 389.8v2.6M106.77 669.5v-4.6M106.77 389.8v4.6M117.98 669.5v-2.6M117.98 389.8v2.6M129.19 669.5v-2.6M129.19 389.8v2.6M140.41 669.5v-2.6M140.41 389.8v2.6M151.62 669.5v-2.6M151.62 389.8v2.6M162.83 669.5v-4.6M162.83 389.8v4.6M174.05 669.5v-2.6M174.05 389.8v2.6M185.26 669.5v-2.6M185.26 389.8v2.6M196.47 669.5v-2.6M196.47 389.8v2.6M207.69 669.5v-2.6M207.69 389.8v2.6M218.9 669.5v-4.6M218.9 389.8v4.6M230.11 669.5v-2.6M230.11 389.8v2.6M241.33 669.5v-2.6M241.33 389.8v2.6M252.54 669.5v-2.6M252.54 389.8v2.6M263.75 669.5v-2.6M263.75 389.8v2.6M274.97 669.5v-4.6M274.97 389.8v4.6M286.18 669.5v-2.6M286.18 389.8v2.6M297.39 669.5v-2.6M297.39 389.8v2.6M308.61 669.5v-2.6M308.61 389.8v2.6M319.82 669.5v-2.6M319.82 389.8v2.6M331.03 669.5v-4.6M331.03 389.8v4.6M342.25 669.5v-2.6M342.25 389.8v2.6M353.46 669.5v-2.6M353.46 389.8v2.6M364.67 669.5v-2.6M364.67 389.8v2.6M375.89 669.5v-2.6M375.89 389.8v2.6M50.7 659.06h2.6M387.1 659.06h-2.6M50.7 648.61h2.6M387.1 648.61h-2.6M50.7 638.17h2.6M387.1 638.17h-2.6M50.7 627.72h2.6M387.1 627.72h-2.6M50.7 617.28h4.6M387.1 617.28h-4.6M50.7 606.84h2.6M387.1 606.84h-2.6M50.7 596.39h2.6M387.1 596.39h-2.6M50.7 585.95h2.6M387.1 585.95h-2.6M50.7 575.5h2.6M387.1 575.5h-2.6M50.7 565.06h4.6M387.1 565.06h-4.6M50.7 554.62h2.6M387.1 554.62h-2.6M50.7 544.17h2.6M387.1 544.17h-2.6M50.7 533.73h2.6M387.1 533.73h-2.6M50.7 523.28h2.6M387.1 523.28h-2.6M50.7 512.84h4.6M387.1 512.84h-4.6M50.7 502.4h2.6M387.1 502.4h-2.6M50.7 491.95h2.6M387.1 491.95h-2.6M50.7 481.51h2.6M387.1 481.51h-2.6M50.7 471.06h2.6M387.1 471.06h-2.6M50.7 460.62h4.6M387.1 460.62h-4.6M50.7 450.18h2.6M387.1 450.18h-2.6M50.7 439.73h2.6M387.1 439.73h-2.6M50.7 429.29h2.6M387.1 429.29h-2.6M50.7 418.84h2.6M387.1 418.84h-2.6M50.7 408.4h4.6M387.1 408.4h-4.6M50.7 397.96h2.6M387.1 397.96h-2.6" stroke="#1c1c1c" stroke-width="1.1" fill="none"/>
<rect x="50.7" y="389.8" width="336.4" height="279.7" fill="none" stroke="#1c1c1c" stroke-width="1.55"/>
<g font-family="'Liberation Serif', serif" font-size="13.7" fill="#111" stroke="#111" stroke-width="0.15">
<text x="51" y="687.1" text-anchor="middle">0</text>
<text x="108.27" y="687.1" text-anchor="middle">0.5</text>
<text x="163.13" y="687.1" text-anchor="middle">1</text>
<text x="220.4" y="687.1" text-anchor="middle">1.5</text>
<text x="275.27" y="687.1" text-anchor="middle">2</text>
<text x="332.53" y="687.1" text-anchor="middle">2.5</text>
<text x="387.4" y="687.1" text-anchor="middle">3</text>
<text x="47.2" y="674" text-anchor="end">1</text>
<text x="47.2" y="621.78" text-anchor="end">1.2</text>
<text x="47.2" y="569.56" text-anchor="end">1.4</text>
<text x="47.2" y="517.34" text-anchor="end">1.6</text>
<text x="47.2" y="465.12" text-anchor="end">1.8</text>
<text x="47.2" y="412.9" text-anchor="end">2</text>
</g>
<text x="217.4" y="382.7" text-anchor="middle" font-family="'Liberation Sans', sans-serif" font-size="16.8" fill="#111" stroke="#111" stroke-width="0.2">δ=0.75</text>
<text y="704.9" font-family="'Liberation Serif', serif" font-size="15.4" fill="#111" stroke="#111" stroke-width="0.25"><tspan x="159.3">Amplitude, W</tspan><tspan x="250.1" dy="7" font-size="10.8">m</tspan><tspan x="266.1" dy="-7">/r</tspan></text>
<g transform="rotate(-90)" font-family="'Liberation Serif', serif" fill="#111">
<text x="-656.35" y="13.1" font-size="15.9" textLength="73.2" lengthAdjust="spacingAndGlyphs">Normalized</text>
<text x="-574.35" y="13.1" font-size="15.9" textLength="65" lengthAdjust="spacingAndGlyphs">frequency,</text>
<text x="-501.35" y="14.7" font-size="17" textLength="11.6" lengthAdjust="spacingAndGlyphs">ω</text>
<text x="-489.55" y="19.1" font-size="11.6" textLength="41.4" lengthAdjust="spacingAndGlyphs">nonlinear</text>
<text x="-447.95" y="13.1" font-size="15.5" textLength="6.3" lengthAdjust="spacingAndGlyphs">/</text>
<text x="-441.95" y="14.7" font-size="17" textLength="11.6" lengthAdjust="spacingAndGlyphs">ω</text>
<text x="-430.15" y="19.1" font-size="11.6" textLength="25.2" lengthAdjust="spacingAndGlyphs">linear</text>
</g>
<polyline points="50.7,669.5 73.13,668.85 95.55,666.89 117.98,663.63 140.41,659.32 162.83,653.05 185.26,646.07 207.69,638.62 230.11,630.61 252.54,623.1 274.97,614.71 297.39,606.14 319.82,597.44 342.25,588.55 364.67,580.33 387.1,571.2" fill="none" stroke="#000000" stroke-width="2.3"/>
<circle cx="50.7" cy="669.5" r="4.2" fill="none" stroke="#000000" stroke-width="2.3"/>
<circle cx="73.13" cy="668.85" r="4.2" fill="none" stroke="#000000" stroke-width="2.3"/>
<circle cx="95.55" cy="666.89" r="4.2" fill="none" stroke="#000000" stroke-width="2.3"/>
<circle cx="117.98" cy="663.63" r="4.2" fill="none" stroke="#000000" stroke-width="2.3"/>
<circle cx="140.41" cy="659.32" r="4.2" fill="none" stroke="#000000" stroke-width="2.3"/>
<circle cx="162.83" cy="653.05" r="4.2" fill="none" stroke="#000000" stroke-width="2.3"/>
<circle cx="185.26" cy="646.07" r="4.2" fill="none" stroke="#000000" stroke-width="2.3"/>
<circle cx="207.69" cy="638.62" r="4.2" fill="none" stroke="#000000" stroke-width="2.3"/>
<circle cx="230.11" cy="630.61" r="4.2" fill="none" stroke="#000000" stroke-width="2.3"/>
<circle cx="252.54" cy="623.1" r="4.2" fill="none" stroke="#000000" stroke-width="2.3"/>
<circle cx="274.97" cy="614.71" r="4.2" fill="none" stroke="#000000" stroke-width="2.3"/>
<circle cx="297.39" cy="606.14" r="4.2" fill="none" stroke="#000000" stroke-width="2.3"/>
<circle cx="319.82" cy="597.44" r="4.2" fill="none" stroke="#000000" stroke-width="2.3"/>
<circle cx="342.25" cy="588.55" r="4.2" fill="none" stroke="#000000" stroke-width="2.3"/>
<circle cx="364.67" cy="580.33" r="4.2" fill="none" stroke="#000000" stroke-width="2.3"/>
<circle cx="387.1" cy="571.2" r="4.2" fill="none" stroke="#000000" stroke-width="2.3"/>
<polyline points="50.7,669.5 73.13,668.72 95.55,666.24 117.98,662.19 140.41,656.77 162.83,649.85 185.26,641.73 207.69,633.08 230.11,624.29 252.54,614.98 274.97,605.92 297.39,596.24 319.82,586.93 342.25,577.02 364.67,567.63 387.1,557.83" fill="none" stroke="#ff0000" stroke-width="2.3" stroke-dasharray="1.5 2.1"/>
<rect x="46.6" y="665.4" width="8.2" height="8.2" fill="none" stroke="#ff0000" stroke-width="2.3"/>
<rect x="69.03" y="664.62" width="8.2" height="8.2" fill="none" stroke="#ff0000" stroke-width="2.3"/>
<rect x="91.45" y="662.14" width="8.2" height="8.2" fill="none" stroke="#ff0000" stroke-width="2.3"/>
<rect x="113.88" y="658.09" width="8.2" height="8.2" fill="none" stroke="#ff0000" stroke-width="2.3"/>
<rect x="136.31" y="652.67" width="8.2" height="8.2" fill="none" stroke="#ff0000" stroke-width="2.3"/>
<rect x="158.73" y="645.75" width="8.2" height="8.2" fill="none" stroke="#ff0000" stroke-width="2.3"/>
<rect x="181.16" y="637.63" width="8.2" height="8.2" fill="none" stroke="#ff0000" stroke-width="2.3"/>
<rect x="203.59" y="628.98" width="8.2" height="8.2" fill="none" stroke="#ff0000" stroke-width="2.3"/>
<rect x="226.01" y="620.19" width="8.2" height="8.2" fill="none" stroke="#ff0000" stroke-width="2.3"/>
<rect x="248.44" y="610.88" width="8.2" height="8.2" fill="none" stroke="#ff0000" stroke-width="2.3"/>
<rect x="270.87" y="601.82" width="8.2" height="8.2" fill="none" stroke="#ff0000" stroke-width="2.3"/>
<rect x="293.29" y="592.14" width="8.2" height="8.2" fill="none" stroke="#ff0000" stroke-width="2.3"/>
<rect x="315.72" y="582.83" width="8.2" height="8.2" fill="none" stroke="#ff0000" stroke-width="2.3"/>
<rect x="338.15" y="572.92" width="8.2" height="8.2" fill="none" stroke="#ff0000" stroke-width="2.3"/>
<rect x="360.57" y="563.53" width="8.2" height="8.2" fill="none" stroke="#ff0000" stroke-width="2.3"/>
<rect x="383" y="553.73" width="8.2" height="8.2" fill="none" stroke="#ff0000" stroke-width="2.3"/>
<polyline points="50.7,669.5 73.13,668.19 95.55,664.41 117.98,657.75 140.41,648.74 162.83,638.69 185.26,629.03 207.69,617.89 230.11,605.66 252.54,594.3 274.97,582.55 297.39,570.93 319.82,559.45 342.25,547 364.67,536.21 387.1,525.07" fill="none" stroke="#ff00ff" stroke-width="2.3" stroke-dasharray="5 1.9 1.7 1.9"/>
<polygon points="50.7,662.1 51.9,667.75 56.41,667.49 52.64,670.72 54.23,676.21 50.7,672.55 47.17,676.21 48.76,670.72 44.99,667.49 49.5,667.75" fill="#ff00ff" stroke="#ff00ff" stroke-width="1" stroke-linejoin="miter"/>
<polygon points="73.13,660.79 74.33,666.45 78.83,666.18 75.07,669.41 76.65,674.9 73.13,671.25 69.6,674.9 71.19,669.41 67.42,666.18 71.93,666.45" fill="#ff00ff" stroke="#ff00ff" stroke-width="1" stroke-linejoin="miter"/>
<polygon points="95.55,657.01 96.75,662.66 101.26,662.4 97.49,665.63 99.08,671.12 95.55,667.46 92.03,671.12 93.61,665.63 89.85,662.4 94.35,662.66" fill="#ff00ff" stroke="#ff00ff" stroke-width="1" stroke-linejoin="miter"/>
<polygon points="117.98,650.35 119.18,656 123.69,655.74 119.92,658.97 121.51,664.46 117.98,660.8 114.45,664.46 116.04,658.97 112.27,655.74 116.78,656" fill="#ff00ff" stroke="#ff00ff" stroke-width="1" stroke-linejoin="miter"/>
<polygon points="140.41,641.34 141.61,647 146.11,646.73 142.35,649.96 143.93,655.45 140.41,651.79 136.88,655.45 138.47,649.96 134.7,646.73 139.21,647" fill="#ff00ff" stroke="#ff00ff" stroke-width="1" stroke-linejoin="miter"/>
<polygon points="162.83,631.29 164.03,636.94 168.54,636.68 164.77,639.91 166.36,645.4 162.83,641.74 159.31,645.4 160.89,639.91 157.13,636.68 161.63,636.94" fill="#ff00ff" stroke="#ff00ff" stroke-width="1" stroke-linejoin="miter"/>
<polygon points="185.26,621.63 186.46,627.28 190.97,627.02 187.2,630.25 188.79,635.74 185.26,632.08 181.73,635.74 183.32,630.25 179.55,627.02 184.06,627.28" fill="#ff00ff" stroke="#ff00ff" stroke-width="1" stroke-linejoin="miter"/>
<polygon points="207.69,610.49 208.89,616.15 213.39,615.88 209.63,619.11 211.21,624.6 207.69,620.95 204.16,624.6 205.75,619.11 201.98,615.88 206.49,616.15" fill="#ff00ff" stroke="#ff00ff" stroke-width="1" stroke-linejoin="miter"/>
<polygon points="230.11,598.26 231.31,603.92 235.82,603.65 232.05,606.88 233.64,612.37 230.11,608.71 226.59,612.37 228.17,606.88 224.41,603.65 228.91,603.92" fill="#ff00ff" stroke="#ff00ff" stroke-width="1" stroke-linejoin="miter"/>
<polygon points="252.54,586.9 253.74,592.56 258.25,592.29 254.48,595.52 256.07,601.01 252.54,597.36 249.01,601.01 250.6,595.52 246.83,592.29 251.34,592.56" fill="#ff00ff" stroke="#ff00ff" stroke-width="1" stroke-linejoin="miter"/>
<polygon points="274.97,575.15 276.17,580.81 280.67,580.54 276.91,583.77 278.49,589.26 274.97,585.61 271.44,589.26 273.03,583.77 269.26,580.54 273.77,580.81" fill="#ff00ff" stroke="#ff00ff" stroke-width="1" stroke-linejoin="miter"/>
<polygon points="297.39,563.53 298.59,569.19 303.1,568.92 299.33,572.15 300.92,577.65 297.39,573.99 293.87,577.65 295.45,572.15 291.69,568.92 296.19,569.19" fill="#ff00ff" stroke="#ff00ff" stroke-width="1" stroke-linejoin="miter"/>
<polygon points="319.82,552.05 321.02,557.7 325.53,557.44 321.76,560.67 323.35,566.16 319.82,562.5 316.29,566.16 317.88,560.67 314.11,557.44 318.62,557.7" fill="#ff00ff" stroke="#ff00ff" stroke-width="1" stroke-linejoin="miter"/>
<polygon points="342.25,539.6 343.45,545.26 347.95,544.99 344.19,548.22 345.77,553.72 342.25,550.06 338.72,553.72 340.31,548.22 336.54,544.99 341.05,545.26" fill="#ff00ff" stroke="#ff00ff" stroke-width="1" stroke-linejoin="miter"/>
<polygon points="364.67,528.81 365.87,534.46 370.38,534.2 366.61,537.43 368.2,542.92 364.67,539.26 361.15,542.92 362.73,537.43 358.97,534.2 363.47,534.46" fill="#ff00ff" stroke="#ff00ff" stroke-width="1" stroke-linejoin="miter"/>
<polygon points="387.1,517.67 388.3,523.33 392.81,523.06 389.04,526.29 390.63,531.78 387.1,528.12 383.57,531.78 385.16,526.29 381.39,523.06 385.9,523.33" fill="#ff00ff" stroke="#ff00ff" stroke-width="1" stroke-linejoin="miter"/>
<polyline points="50.7,669.5 73.13,667.41 95.55,661.41 117.98,651.68 140.41,639.87 162.83,625.99 185.26,611.9 207.69,596.74 230.11,582.23 252.54,567.08 274.97,552.59 297.39,537.71 319.82,523.81 342.25,509.45 364.67,495.87 387.1,482.79" fill="none" stroke="#0000ff" stroke-width="2.3" stroke-dasharray="5 2.1"/>
<polygon points="50.7,664.6 55.9,673.2 45.5,673.2" fill="none" stroke="#0000ff" stroke-width="2.3" stroke-linejoin="miter"/>
<polygon points="73.13,662.51 78.33,671.11 67.93,671.11" fill="none" stroke="#0000ff" stroke-width="2.3" stroke-linejoin="miter"/>
<polygon points="95.55,656.51 100.75,665.11 90.35,665.11" fill="none" stroke="#0000ff" stroke-width="2.3" stroke-linejoin="miter"/>
<polygon points="117.98,646.78 123.18,655.38 112.78,655.38" fill="none" stroke="#0000ff" stroke-width="2.3" stroke-linejoin="miter"/>
<polygon points="140.41,634.97 145.61,643.57 135.21,643.57" fill="none" stroke="#0000ff" stroke-width="2.3" stroke-linejoin="miter"/>
<polygon points="162.83,621.09 168.03,629.69 157.63,629.69" fill="none" stroke="#0000ff" stroke-width="2.3" stroke-linejoin="miter"/>
<polygon points="185.26,607 190.46,615.6 180.06,615.6" fill="none" stroke="#0000ff" stroke-width="2.3" stroke-linejoin="miter"/>
<polygon points="207.69,591.84 212.89,600.44 202.49,600.44" fill="none" stroke="#0000ff" stroke-width="2.3" stroke-linejoin="miter"/>
<polygon points="230.11,577.33 235.31,585.93 224.91,585.93" fill="none" stroke="#0000ff" stroke-width="2.3" stroke-linejoin="miter"/>
<polygon points="252.54,562.18 257.74,570.78 247.34,570.78" fill="none" stroke="#0000ff" stroke-width="2.3" stroke-linejoin="miter"/>
<polygon points="274.97,547.69 280.17,556.29 269.77,556.29" fill="none" stroke="#0000ff" stroke-width="2.3" stroke-linejoin="miter"/>
<polygon points="297.39,532.81 302.59,541.41 292.19,541.41" fill="none" stroke="#0000ff" stroke-width="2.3" stroke-linejoin="miter"/>
<polygon points="319.82,518.91 325.02,527.51 314.62,527.51" fill="none" stroke="#0000ff" stroke-width="2.3" stroke-linejoin="miter"/>
<polygon points="342.25,504.55 347.45,513.15 337.05,513.15" fill="none" stroke="#0000ff" stroke-width="2.3" stroke-linejoin="miter"/>
<polygon points="364.67,490.97 369.87,499.57 359.47,499.57" fill="none" stroke="#0000ff" stroke-width="2.3" stroke-linejoin="miter"/>
<polygon points="387.1,477.89 392.3,486.49 381.9,486.49" fill="none" stroke="#0000ff" stroke-width="2.3" stroke-linejoin="miter"/>
<polyline points="50.7,669.5 73.13,666.24 95.55,656.97 117.98,643.13 140.41,626.6 162.83,609.25 185.26,590.19 207.69,572.02 230.11,553.57 252.54,535.87 274.97,517.93 297.39,500.7 319.82,483.79 342.25,467.8 364.67,452.17 387.1,437.64" fill="none" stroke="#00ff00" stroke-width="2.3"/>
<path d="M46.5 669.5H54.9M50.7 665.3V673.7" fill="none" stroke="#00ff00" stroke-width="2.3"/>
<path d="M68.93 666.24H77.33M73.13 662.04V670.44" fill="none" stroke="#00ff00" stroke-width="2.3"/>
<path d="M91.35 656.97H99.75M95.55 652.77V661.17" fill="none" stroke="#00ff00" stroke-width="2.3"/>
<path d="M113.78 643.13H122.18M117.98 638.93V647.33" fill="none" stroke="#00ff00" stroke-width="2.3"/>
<path d="M136.21 626.6H144.61M140.41 622.4V630.8" fill="none" stroke="#00ff00" stroke-width="2.3"/>
<path d="M158.63 609.25H167.03M162.83 605.05V613.45" fill="none" stroke="#00ff00" stroke-width="2.3"/>
<path d="M181.06 590.19H189.46M185.26 585.99V594.39" fill="none" stroke="#00ff00" stroke-width="2.3"/>
<path d="M203.49 572.02H211.89M207.69 567.82V576.22" fill="none" stroke="#00ff00" stroke-width="2.3"/>
<path d="M225.91 553.57H234.31M230.11 549.37V557.77" fill="none" stroke="#00ff00" stroke-width="2.3"/>
<path d="M248.34 535.87H256.74M252.54 531.67V540.07" fill="none" stroke="#00ff00" stroke-width="2.3"/>
<path d="M270.77 517.93H279.17M274.97 513.73V522.13" fill="none" stroke="#00ff00" stroke-width="2.3"/>
<path d="M293.19 500.7H301.59M297.39 496.5V504.9" fill="none" stroke="#00ff00" stroke-width="2.3"/>
<path d="M315.62 483.79H324.02M319.82 479.59V487.99" fill="none" stroke="#00ff00" stroke-width="2.3"/>
<path d="M338.05 467.8H346.45M342.25 463.6V472" fill="none" stroke="#00ff00" stroke-width="2.3"/>
<path d="M360.47 452.17H368.87M364.67 447.97V456.37" fill="none" stroke="#00ff00" stroke-width="2.3"/>
<path d="M382.9 437.64H391.3M387.1 433.44V441.84" fill="none" stroke="#00ff00" stroke-width="2.3"/>
<polyline points="50.7,669.5 73.13,664.15 95.55,650.96 117.98,632.42 140.41,611.01 162.83,588.17 185.26,565.71 207.69,544.04 230.11,522.44 252.54,501.22 274.97,480.92 297.39,461.14 319.82,442.47 342.25,423.86 364.67,406.18 387.1,389.13" fill="none" stroke="#ffff00" stroke-width="2.3"/>
<polygon points="50.7,664.2 54.6,669.5 50.7,674.8 46.8,669.5" fill="none" stroke="#ffff00" stroke-width="2.3" stroke-linejoin="miter"/>
<polygon points="73.13,658.85 77.03,664.15 73.13,669.45 69.23,664.15" fill="none" stroke="#ffff00" stroke-width="2.3" stroke-linejoin="miter"/>
<polygon points="95.55,645.66 99.45,650.96 95.55,656.26 91.65,650.96" fill="none" stroke="#ffff00" stroke-width="2.3" stroke-linejoin="miter"/>
<polygon points="117.98,627.12 121.88,632.42 117.98,637.72 114.08,632.42" fill="none" stroke="#ffff00" stroke-width="2.3" stroke-linejoin="miter"/>
<polygon points="140.41,605.71 144.31,611.01 140.41,616.31 136.51,611.01" fill="none" stroke="#ffff00" stroke-width="2.3" stroke-linejoin="miter"/>
<polygon points="162.83,582.87 166.73,588.17 162.83,593.47 158.93,588.17" fill="none" stroke="#ffff00" stroke-width="2.3" stroke-linejoin="miter"/>
<polygon points="185.26,560.41 189.16,565.71 185.26,571.01 181.36,565.71" fill="none" stroke="#ffff00" stroke-width="2.3" stroke-linejoin="miter"/>
<polygon points="207.69,538.74 211.59,544.04 207.69,549.34 203.79,544.04" fill="none" stroke="#ffff00" stroke-width="2.3" stroke-linejoin="miter"/>
<polygon points="230.11,517.14 234.01,522.44 230.11,527.74 226.21,522.44" fill="none" stroke="#ffff00" stroke-width="2.3" stroke-linejoin="miter"/>
<polygon points="252.54,495.92 256.44,501.22 252.54,506.52 248.64,501.22" fill="none" stroke="#ffff00" stroke-width="2.3" stroke-linejoin="miter"/>
<polygon points="274.97,475.62 278.87,480.92 274.97,486.22 271.07,480.92" fill="none" stroke="#ffff00" stroke-width="2.3" stroke-linejoin="miter"/>
<polygon points="297.39,455.84 301.29,461.14 297.39,466.44 293.49,461.14" fill="none" stroke="#ffff00" stroke-width="2.3" stroke-linejoin="miter"/>
<polygon points="319.82,437.17 323.72,442.47 319.82,447.77 315.92,442.47" fill="none" stroke="#ffff00" stroke-width="2.3" stroke-linejoin="miter"/>
<polygon points="342.25,418.56 346.15,423.86 342.25,429.16 338.35,423.86" fill="none" stroke="#ffff00" stroke-width="2.3" stroke-linejoin="miter"/>
<polygon points="364.67,400.88 368.57,406.18 364.67,411.48 360.77,406.18" fill="none" stroke="#ffff00" stroke-width="2.3" stroke-linejoin="miter"/>
<polygon points="387.1,383.83 391,389.13 387.1,394.43 383.2,389.13" fill="none" stroke="#ffff00" stroke-width="2.3" stroke-linejoin="miter"/>
<path d="M474.48 668.7v-1.6M474.48 382.2v1.6M485.97 668.7v-1.6M485.97 382.2v1.6M497.45 668.7v-1.6M497.45 382.2v1.6M508.93 668.7v-1.6M508.93 382.2v1.6M520.42 668.7v-3.4M520.42 382.2v3.4M531.9 668.7v-1.6M531.9 382.2v1.6M543.38 668.7v-1.6M543.38 382.2v1.6M554.87 668.7v-1.6M554.87 382.2v1.6M566.35 668.7v-1.6M566.35 382.2v1.6M577.83 668.7v-3.4M577.83 382.2v3.4M589.32 668.7v-1.6M589.32 382.2v1.6M600.8 668.7v-1.6M600.8 382.2v1.6M612.28 668.7v-1.6M612.28 382.2v1.6M623.77 668.7v-1.6M623.77 382.2v1.6M635.25 668.7v-3.4M635.25 382.2v3.4M646.73 668.7v-1.6M646.73 382.2v1.6M658.22 668.7v-1.6M658.22 382.2v1.6M669.7 668.7v-1.6M669.7 382.2v1.6M681.18 668.7v-1.6M681.18 382.2v1.6M692.67 668.7v-3.4M692.67 382.2v3.4M704.15 668.7v-1.6M704.15 382.2v1.6M715.63 668.7v-1.6M715.63 382.2v1.6M727.12 668.7v-1.6M727.12 382.2v1.6M738.6 668.7v-1.6M738.6 382.2v1.6M750.08 668.7v-3.4M750.08 382.2v3.4M761.57 668.7v-1.6M761.57 382.2v1.6M773.05 668.7v-1.6M773.05 382.2v1.6M784.53 668.7v-1.6M784.53 382.2v1.6M796.02 668.7v-1.6M796.02 382.2v1.6M463 658.48h1.6M807.5 658.48h-1.6M463 648.25h1.6M807.5 648.25h-1.6M463 638.03h1.6M807.5 638.03h-1.6M463 627.8h1.6M807.5 627.8h-1.6M463 617.58h3.4M807.5 617.58h-3.4M463 607.36h1.6M807.5 607.36h-1.6M463 597.13h1.6M807.5 597.13h-1.6M463 586.91h1.6M807.5 586.91h-1.6M463 576.68h1.6M807.5 576.68h-1.6M463 566.46h3.4M807.5 566.46h-3.4M463 556.24h1.6M807.5 556.24h-1.6M463 546.01h1.6M807.5 546.01h-1.6M463 535.79h1.6M807.5 535.79h-1.6M463 525.56h1.6M807.5 525.56h-1.6M463 515.34h3.4M807.5 515.34h-3.4M463 505.12h1.6M807.5 505.12h-1.6M463 494.89h1.6M807.5 494.89h-1.6M463 484.67h1.6M807.5 484.67h-1.6M463 474.44h1.6M807.5 474.44h-1.6M463 464.22h3.4M807.5 464.22h-3.4M463 454h1.6M807.5 454h-1.6M463 443.77h1.6M807.5 443.77h-1.6M463 433.55h1.6M807.5 433.55h-1.6M463 423.32h1.6M807.5 423.32h-1.6M463 413.1h3.4M807.5 413.1h-3.4M463 402.88h1.6M807.5 402.88h-1.6M463 392.65h1.6M807.5 392.65h-1.6" stroke="#1c1c1c" stroke-width="1.1" fill="none"/>
<rect x="463" y="382.2" width="344.5" height="286.5" fill="none" stroke="#1c1c1c" stroke-width="1.55"/>
<g font-family="'Liberation Serif', serif" font-size="13.7" fill="#111" stroke="#111" stroke-width="0.15">
<text x="463.3" y="686.7" text-anchor="middle">0</text>
<text x="521.92" y="686.7" text-anchor="middle">0.5</text>
<text x="578.13" y="686.7" text-anchor="middle">1</text>
<text x="636.75" y="686.7" text-anchor="middle">1.5</text>
<text x="692.97" y="686.7" text-anchor="middle">2</text>
<text x="751.58" y="686.7" text-anchor="middle">2.5</text>
<text x="807.8" y="686.7" text-anchor="middle">3</text>
<text x="457.8" y="673.2" text-anchor="end">1</text>
<text x="457.8" y="622.08" text-anchor="end">1.2</text>
<text x="457.8" y="570.96" text-anchor="end">1.4</text>
<text x="457.8" y="519.84" text-anchor="end">1.6</text>
<text x="457.8" y="468.72" text-anchor="end">1.8</text>
<text x="457.8" y="417.6" text-anchor="end">2</text>
</g>
<text x="633" y="376.8" text-anchor="middle" font-family="'Liberation Sans', sans-serif" font-size="16.8" fill="#111" stroke="#111" stroke-width="0.2">δ=1</text>
<text y="705" font-family="'Liberation Serif', serif" font-size="15.4" fill="#111" stroke="#111" stroke-width="0.25"><tspan x="575.65">Amplitude, W</tspan><tspan x="666.45" dy="7" font-size="10.8">max</tspan><tspan x="682.45" dy="-7">/r</tspan></text>
<g transform="rotate(-90)" font-family="'Liberation Serif', serif" fill="#111">
<text x="-656.75" y="425.6" font-size="15.9" textLength="73.2" lengthAdjust="spacingAndGlyphs">Normalized</text>
<text x="-574.75" y="425.6" font-size="15.9" textLength="65" lengthAdjust="spacingAndGlyphs">frequency,</text>
<text x="-501.75" y="427.1" font-size="17" textLength="11.6" lengthAdjust="spacingAndGlyphs">ω</text>
<text x="-489.95" y="431.5" font-size="11.6" textLength="41.4" lengthAdjust="spacingAndGlyphs">nonlinear</text>
<text x="-448.35" y="425.5" font-size="15.5" textLength="6.3" lengthAdjust="spacingAndGlyphs">/</text>
<text x="-442.35" y="427.1" font-size="17" textLength="11.6" lengthAdjust="spacingAndGlyphs">ω</text>
<text x="-430.55" y="431.5" font-size="11.6" textLength="25.2" lengthAdjust="spacingAndGlyphs">linear</text>
</g>
<polyline points="463,668.7 485.97,668.06 508.93,666.14 531.9,662.82 554.87,658.48 577.83,652.34 600.8,645.52 623.77,638.28 646.73,630.77 669.7,623.1 692.67,614.77 715.63,606.33 738.6,597.64 761.57,589.11 784.53,580.77 807.5,571.57" fill="none" stroke="#000000" stroke-width="2.3"/>
<circle cx="463" cy="668.7" r="4.2" fill="none" stroke="#000000" stroke-width="2.3"/>
<circle cx="485.97" cy="668.06" r="4.2" fill="none" stroke="#000000" stroke-width="2.3"/>
<circle cx="508.93" cy="666.14" r="4.2" fill="none" stroke="#000000" stroke-width="2.3"/>
<circle cx="531.9" cy="662.82" r="4.2" fill="none" stroke="#000000" stroke-width="2.3"/>
<circle cx="554.87" cy="658.48" r="4.2" fill="none" stroke="#000000" stroke-width="2.3"/>
<circle cx="577.83" cy="652.34" r="4.2" fill="none" stroke="#000000" stroke-width="2.3"/>
<circle cx="600.8" cy="645.52" r="4.2" fill="none" stroke="#000000" stroke-width="2.3"/>
<circle cx="623.77" cy="638.28" r="4.2" fill="none" stroke="#000000" stroke-width="2.3"/>
<circle cx="646.73" cy="630.77" r="4.2" fill="none" stroke="#000000" stroke-width="2.3"/>
<circle cx="669.7" cy="623.1" r="4.2" fill="none" stroke="#000000" stroke-width="2.3"/>
<circle cx="692.67" cy="614.77" r="4.2" fill="none" stroke="#000000" stroke-width="2.3"/>
<circle cx="715.63" cy="606.33" r="4.2" fill="none" stroke="#000000" stroke-width="2.3"/>
<circle cx="738.6" cy="597.64" r="4.2" fill="none" stroke="#000000" stroke-width="2.3"/>
<circle cx="761.57" cy="589.11" r="4.2" fill="none" stroke="#000000" stroke-width="2.3"/>
<circle cx="784.53" cy="580.77" r="4.2" fill="none" stroke="#000000" stroke-width="2.3"/>
<circle cx="807.5" cy="571.57" r="4.2" fill="none" stroke="#000000" stroke-width="2.3"/>
<polyline points="463,668.7 485.97,667.93 508.93,665.63 531.9,661.8 554.87,656.43 577.83,649.15 600.8,641.17 623.77,632.33 646.73,623.89 669.7,614.51 692.67,605.69 715.63,596.49 738.6,587.24 761.57,577.5 784.53,568.07 807.5,558.54" fill="none" stroke="#ff0000" stroke-width="2.3" stroke-dasharray="1.5 2.1"/>
<rect x="458.9" y="664.6" width="8.2" height="8.2" fill="none" stroke="#ff0000" stroke-width="2.3"/>
<rect x="481.87" y="663.83" width="8.2" height="8.2" fill="none" stroke="#ff0000" stroke-width="2.3"/>
<rect x="504.83" y="661.53" width="8.2" height="8.2" fill="none" stroke="#ff0000" stroke-width="2.3"/>
<rect x="527.8" y="657.7" width="8.2" height="8.2" fill="none" stroke="#ff0000" stroke-width="2.3"/>
<rect x="550.77" y="652.33" width="8.2" height="8.2" fill="none" stroke="#ff0000" stroke-width="2.3"/>
<rect x="573.73" y="645.05" width="8.2" height="8.2" fill="none" stroke="#ff0000" stroke-width="2.3"/>
<rect x="596.7" y="637.07" width="8.2" height="8.2" fill="none" stroke="#ff0000" stroke-width="2.3"/>
<rect x="619.67" y="628.23" width="8.2" height="8.2" fill="none" stroke="#ff0000" stroke-width="2.3"/>
<rect x="642.63" y="619.79" width="8.2" height="8.2" fill="none" stroke="#ff0000" stroke-width="2.3"/>
<rect x="665.6" y="610.41" width="8.2" height="8.2" fill="none" stroke="#ff0000" stroke-width="2.3"/>
<rect x="688.57" y="601.59" width="8.2" height="8.2" fill="none" stroke="#ff0000" stroke-width="2.3"/>
<rect x="711.53" y="592.39" width="8.2" height="8.2" fill="none" stroke="#ff0000" stroke-width="2.3"/>
<rect x="734.5" y="583.14" width="8.2" height="8.2" fill="none" stroke="#ff0000" stroke-width="2.3"/>
<rect x="757.47" y="573.4" width="8.2" height="8.2" fill="none" stroke="#ff0000" stroke-width="2.3"/>
<rect x="780.43" y="563.97" width="8.2" height="8.2" fill="none" stroke="#ff0000" stroke-width="2.3"/>
<rect x="803.4" y="554.44" width="8.2" height="8.2" fill="none" stroke="#ff0000" stroke-width="2.3"/>
<polyline points="463,668.7 485.97,667.42 508.93,663.59 531.9,656.94 554.87,648 577.83,637.26 600.8,628.32 623.77,617.2 646.73,605.31 669.7,593.81 692.67,582.05 715.63,570.81 738.6,559.3 761.57,546.96 784.53,536.3 807.5,525.44" fill="none" stroke="#ff00ff" stroke-width="2.3" stroke-dasharray="5 1.9 1.7 1.9"/>
<polygon points="463,661.3 464.2,666.95 468.71,666.69 464.94,669.92 466.53,675.41 463,671.75 459.47,675.41 461.06,669.92 457.29,666.69 461.8,666.95" fill="#ff00ff" stroke="#ff00ff" stroke-width="1" stroke-linejoin="miter"/>
<polygon points="485.97,660.02 487.17,665.68 491.67,665.41 487.91,668.64 489.49,674.13 485.97,670.47 482.44,674.13 484.03,668.64 480.26,665.41 484.77,665.68" fill="#ff00ff" stroke="#ff00ff" stroke-width="1" stroke-linejoin="miter"/>
<polygon points="508.93,656.19 510.13,661.84 514.64,661.58 510.87,664.81 512.46,670.3 508.93,666.64 505.41,670.3 506.99,664.81 503.23,661.58 507.73,661.84" fill="#ff00ff" stroke="#ff00ff" stroke-width="1" stroke-linejoin="miter"/>
<polygon points="531.9,649.54 533.1,655.2 537.61,654.93 533.84,658.16 535.43,663.65 531.9,659.99 528.37,663.65 529.96,658.16 526.19,654.93 530.7,655.2" fill="#ff00ff" stroke="#ff00ff" stroke-width="1" stroke-linejoin="miter"/>
<polygon points="554.87,640.6 556.07,646.25 560.57,645.99 556.81,649.22 558.39,654.71 554.87,651.05 551.34,654.71 552.93,649.22 549.16,645.99 553.67,646.25" fill="#ff00ff" stroke="#ff00ff" stroke-width="1" stroke-linejoin="miter"/>
<polygon points="577.83,629.86 579.03,635.52 583.54,635.25 579.77,638.48 581.36,643.97 577.83,640.31 574.31,643.97 575.89,638.48 572.13,635.25 576.63,635.52" fill="#ff00ff" stroke="#ff00ff" stroke-width="1" stroke-linejoin="miter"/>
<polygon points="600.8,620.92 602,626.57 606.51,626.3 602.74,629.53 604.33,635.03 600.8,631.37 597.27,635.03 598.86,629.53 595.09,626.3 599.6,626.57" fill="#ff00ff" stroke="#ff00ff" stroke-width="1" stroke-linejoin="miter"/>
<polygon points="623.77,609.8 624.97,615.45 629.47,615.19 625.71,618.42 627.29,623.91 623.77,620.25 620.24,623.91 621.83,618.42 618.06,615.19 622.57,615.45" fill="#ff00ff" stroke="#ff00ff" stroke-width="1" stroke-linejoin="miter"/>
<polygon points="646.73,597.91 647.93,603.57 652.44,603.3 648.67,606.53 650.26,612.02 646.73,608.36 643.21,612.02 644.79,606.53 641.03,603.3 645.53,603.57" fill="#ff00ff" stroke="#ff00ff" stroke-width="1" stroke-linejoin="miter"/>
<polygon points="669.7,586.41 670.9,592.06 675.41,591.8 671.64,595.03 673.23,600.52 669.7,596.86 666.17,600.52 667.76,595.03 663.99,591.8 668.5,592.06" fill="#ff00ff" stroke="#ff00ff" stroke-width="1" stroke-linejoin="miter"/>
<polygon points="692.67,574.65 693.87,580.31 698.37,580.04 694.61,583.27 696.19,588.76 692.67,585.1 689.14,588.76 690.73,583.27 686.96,580.04 691.47,580.31" fill="#ff00ff" stroke="#ff00ff" stroke-width="1" stroke-linejoin="miter"/>
<polygon points="715.63,563.41 716.83,569.06 721.34,568.79 717.57,572.02 719.16,577.52 715.63,573.86 712.11,577.52 713.69,572.02 709.93,568.79 714.43,569.06" fill="#ff00ff" stroke="#ff00ff" stroke-width="1" stroke-linejoin="miter"/>
<polygon points="738.6,551.9 739.8,557.56 744.31,557.29 740.54,560.52 742.13,566.01 738.6,562.36 735.07,566.01 736.66,560.52 732.89,557.29 737.4,557.56" fill="#ff00ff" stroke="#ff00ff" stroke-width="1" stroke-linejoin="miter"/>
<polygon points="761.57,539.56 762.77,545.21 767.27,544.95 763.51,548.18 765.09,553.67 761.57,550.01 758.04,553.67 759.63,548.18 755.86,544.95 760.37,545.21" fill="#ff00ff" stroke="#ff00ff" stroke-width="1" stroke-linejoin="miter"/>
<polygon points="784.53,528.9 785.73,534.55 790.24,534.29 786.47,537.52 788.06,543.01 784.53,539.35 781.01,543.01 782.59,537.52 778.83,534.29 783.33,534.55" fill="#ff00ff" stroke="#ff00ff" stroke-width="1" stroke-linejoin="miter"/>
<polygon points="807.5,518.04 808.7,523.69 813.21,523.43 809.44,526.66 811.03,532.15 807.5,528.49 803.97,532.15 805.56,526.66 801.79,523.43 806.3,523.69" fill="#ff00ff" stroke="#ff00ff" stroke-width="1" stroke-linejoin="miter"/>
<polyline points="463,668.7 485.97,666.66 508.93,660.52 531.9,650.94 554.87,638.79 577.83,624.4 600.8,610.63 623.77,595.65 646.73,581.16 669.7,566.08 692.67,551.12 715.63,536.43 738.6,522.5 761.57,507.93 784.53,494.89 807.5,482.44" fill="none" stroke="#0000ff" stroke-width="2.3" stroke-dasharray="5 2.1"/>
<polygon points="463,663.8 468.2,672.4 457.8,672.4" fill="none" stroke="#0000ff" stroke-width="2.3" stroke-linejoin="miter"/>
<polygon points="485.97,661.76 491.17,670.36 480.77,670.36" fill="none" stroke="#0000ff" stroke-width="2.3" stroke-linejoin="miter"/>
<polygon points="508.93,655.62 514.13,664.22 503.73,664.22" fill="none" stroke="#0000ff" stroke-width="2.3" stroke-linejoin="miter"/>
<polygon points="531.9,646.04 537.1,654.64 526.7,654.64" fill="none" stroke="#0000ff" stroke-width="2.3" stroke-linejoin="miter"/>
<polygon points="554.87,633.89 560.07,642.49 549.67,642.49" fill="none" stroke="#0000ff" stroke-width="2.3" stroke-linejoin="miter"/>
<polygon points="577.83,619.5 583.03,628.1 572.63,628.1" fill="none" stroke="#0000ff" stroke-width="2.3" stroke-linejoin="miter"/>
<polygon points="600.8,605.73 606,614.33 595.6,614.33" fill="none" stroke="#0000ff" stroke-width="2.3" stroke-linejoin="miter"/>
<polygon points="623.77,590.75 628.97,599.35 618.57,599.35" fill="none" stroke="#0000ff" stroke-width="2.3" stroke-linejoin="miter"/>
<polygon points="646.73,576.26 651.93,584.86 641.53,584.86" fill="none" stroke="#0000ff" stroke-width="2.3" stroke-linejoin="miter"/>
<polygon points="669.7,561.18 674.9,569.78 664.5,569.78" fill="none" stroke="#0000ff" stroke-width="2.3" stroke-linejoin="miter"/>
<polygon points="692.67,546.22 697.87,554.82 687.47,554.82" fill="none" stroke="#0000ff" stroke-width="2.3" stroke-linejoin="miter"/>
<polygon points="715.63,531.53 720.83,540.13 710.43,540.13" fill="none" stroke="#0000ff" stroke-width="2.3" stroke-linejoin="miter"/>
<polygon points="738.6,517.6 743.8,526.2 733.4,526.2" fill="none" stroke="#0000ff" stroke-width="2.3" stroke-linejoin="miter"/>
<polygon points="761.57,503.03 766.77,511.63 756.37,511.63" fill="none" stroke="#0000ff" stroke-width="2.3" stroke-linejoin="miter"/>
<polygon points="784.53,489.99 789.73,498.59 779.33,498.59" fill="none" stroke="#0000ff" stroke-width="2.3" stroke-linejoin="miter"/>
<polygon points="807.5,477.54 812.7,486.14 802.3,486.14" fill="none" stroke="#0000ff" stroke-width="2.3" stroke-linejoin="miter"/>
<polyline points="463,668.7 485.97,665.38 508.93,656.43 531.9,641.1 554.87,624.33 577.83,606.72 600.8,587.04 623.77,569.35 646.73,550.87 669.7,532.72 692.67,514.83 715.63,497.45 738.6,480.32 761.57,464.48 784.53,448.88 807.5,434.57" fill="none" stroke="#00ff00" stroke-width="2.3"/>
<path d="M458.8 668.7H467.2M463 664.5V672.9" fill="none" stroke="#00ff00" stroke-width="2.3"/>
<path d="M481.77 665.38H490.17M485.97 661.18V669.58" fill="none" stroke="#00ff00" stroke-width="2.3"/>
<path d="M504.73 656.43H513.13M508.93 652.23V660.63" fill="none" stroke="#00ff00" stroke-width="2.3"/>
<path d="M527.7 641.1H536.1M531.9 636.9V645.3" fill="none" stroke="#00ff00" stroke-width="2.3"/>
<path d="M550.67 624.33H559.07M554.87 620.13V628.53" fill="none" stroke="#00ff00" stroke-width="2.3"/>
<path d="M573.63 606.72H582.03M577.83 602.52V610.92" fill="none" stroke="#00ff00" stroke-width="2.3"/>
<path d="M596.6 587.04H605M600.8 582.84V591.24" fill="none" stroke="#00ff00" stroke-width="2.3"/>
<path d="M619.57 569.35H627.97M623.77 565.15V573.55" fill="none" stroke="#00ff00" stroke-width="2.3"/>
<path d="M642.53 550.87H650.93M646.73 546.67V555.07" fill="none" stroke="#00ff00" stroke-width="2.3"/>
<path d="M665.5 532.72H673.9M669.7 528.52V536.92" fill="none" stroke="#00ff00" stroke-width="2.3"/>
<path d="M688.47 514.83H696.87M692.67 510.63V519.03" fill="none" stroke="#00ff00" stroke-width="2.3"/>
<path d="M711.43 497.45H719.83M715.63 493.25V501.65" fill="none" stroke="#00ff00" stroke-width="2.3"/>
<path d="M734.4 480.32H742.8M738.6 476.12V484.52" fill="none" stroke="#00ff00" stroke-width="2.3"/>
<path d="M757.37 464.48H765.77M761.57 460.28V468.68" fill="none" stroke="#00ff00" stroke-width="2.3"/>
<path d="M780.33 448.88H788.73M784.53 444.68V453.08" fill="none" stroke="#00ff00" stroke-width="2.3"/>
<path d="M803.3 434.57H811.7M807.5 430.37V438.77" fill="none" stroke="#00ff00" stroke-width="2.3"/>
<polyline points="463,668.7 485.97,662.82 508.93,649.02 531.9,629.34 554.87,607.1 577.83,583.59 600.8,560.33 623.77,538.34 646.73,516.62 669.7,495.15 692.67,474.96 715.63,455.15 738.6,436.1 761.57,417.19 784.53,399.17 807.5,382.27" fill="none" stroke="#ffff00" stroke-width="2.3"/>
<polygon points="463,663.4 466.9,668.7 463,674 459.1,668.7" fill="none" stroke="#ffff00" stroke-width="2.3" stroke-linejoin="miter"/>
<polygon points="485.97,657.52 489.87,662.82 485.97,668.12 482.07,662.82" fill="none" stroke="#ffff00" stroke-width="2.3" stroke-linejoin="miter"/>
<polygon points="508.93,643.72 512.83,649.02 508.93,654.32 505.03,649.02" fill="none" stroke="#ffff00" stroke-width="2.3" stroke-linejoin="miter"/>
<polygon points="531.9,624.04 535.8,629.34 531.9,634.64 528,629.34" fill="none" stroke="#ffff00" stroke-width="2.3" stroke-linejoin="miter"/>
<polygon points="554.87,601.8 558.77,607.1 554.87,612.4 550.97,607.1" fill="none" stroke="#ffff00" stroke-width="2.3" stroke-linejoin="miter"/>
<polygon points="577.83,578.29 581.73,583.59 577.83,588.89 573.93,583.59" fill="none" stroke="#ffff00" stroke-width="2.3" stroke-linejoin="miter"/>
<polygon points="600.8,555.03 604.7,560.33 600.8,565.63 596.9,560.33" fill="none" stroke="#ffff00" stroke-width="2.3" stroke-linejoin="miter"/>
<polygon points="623.77,533.04 627.67,538.34 623.77,543.64 619.87,538.34" fill="none" stroke="#ffff00" stroke-width="2.3" stroke-linejoin="miter"/>
<polygon points="646.73,511.32 650.63,516.62 646.73,521.92 642.83,516.62" fill="none" stroke="#ffff00" stroke-width="2.3" stroke-linejoin="miter"/>
<polygon points="669.7,489.85 673.6,495.15 669.7,500.45 665.8,495.15" fill="none" stroke="#ffff00" stroke-width="2.3" stroke-linejoin="miter"/>
<polygon points="692.67,469.66 696.57,474.96 692.67,480.26 688.77,474.96" fill="none" stroke="#ffff00" stroke-width="2.3" stroke-linejoin="miter"/>
<polygon points="715.63,449.85 719.53,455.15 715.63,460.45 711.73,455.15" fill="none" stroke="#ffff00" stroke-width="2.3" stroke-linejoin="miter"/>
<polygon points="738.6,430.8 742.5,436.1 738.6,441.4 734.7,436.1" fill="none" stroke="#ffff00" stroke-width="2.3" stroke-linejoin="miter"/>
<polygon points="761.57,411.89 765.47,417.19 761.57,422.49 757.67,417.19" fill="none" stroke="#ffff00" stroke-width="2.3" stroke-linejoin="miter"/>
<polygon points="784.53,393.87 788.43,399.17 784.53,404.47 780.63,399.17" fill="none" stroke="#ffff00" stroke-width="2.3" stroke-linejoin="miter"/>
<polygon points="807.5,376.97 811.4,382.27 807.5,387.57 803.6,382.27" fill="none" stroke="#ffff00" stroke-width="2.3" stroke-linejoin="miter"/>
<rect x="467.8" y="391.4" width="105.5" height="124.5" fill="#fff" stroke="#1c1c1c" stroke-width="1.5"/>
<path d="M477.4 404.6H529.5" stroke="#000000" stroke-width="2.3" fill="none"/>
<circle cx="502.9" cy="404.6" r="4.2" fill="none" stroke="#000000" stroke-width="2.3"/>
<text x="535.6" y="409" font-family="'Liberation Serif', serif" font-size="13.5" fill="#111" stroke="#111" stroke-width="0.15">μ=0</text>
<path d="M477.4 423.7H529.5" stroke="#ff0000" stroke-width="2.3" fill="none" stroke-dasharray="1.5 2.1"/>
<rect x="498.8" y="419.6" width="8.2" height="8.2" fill="none" stroke="#ff0000" stroke-width="2.3"/>
<text x="535.6" y="428.1" font-family="'Liberation Serif', serif" font-size="13.5" fill="#111" stroke="#111" stroke-width="0.15">μ=0.1</text>
<path d="M477.4 443.6H529.5" stroke="#ff00ff" stroke-width="2.3" fill="none" stroke-dasharray="5 1.9 1.7 1.9"/>
<polygon points="502.9,436.2 504.1,441.85 508.61,441.59 504.84,444.82 506.43,450.31 502.9,446.65 499.37,450.31 500.96,444.82 497.19,441.59 501.7,441.85" fill="#ff00ff" stroke="#ff00ff" stroke-width="1" stroke-linejoin="miter"/>
<text x="535.6" y="448" font-family="'Liberation Serif', serif" font-size="13.5" fill="#111" stroke="#111" stroke-width="0.15">μ=0.2</text>
<path d="M477.4 463.7H529.5" stroke="#0000ff" stroke-width="2.3" fill="none" stroke-dasharray="5 2.1"/>
<polygon points="502.9,458.8 508.1,467.4 497.7,467.4" fill="none" stroke="#0000ff" stroke-width="2.3" stroke-linejoin="miter"/>
<text x="535.6" y="468.1" font-family="'Liberation Serif', serif" font-size="13.5" fill="#111" stroke="#111" stroke-width="0.15">μ=0.3</text>
<path d="M477.4 483.7H529.5" stroke="#00ff00" stroke-width="2.3" fill="none"/>
<path d="M498.7 483.7H507.1M502.9 479.5V487.9" fill="none" stroke="#00ff00" stroke-width="2.3"/>
<text x="535.6" y="488.1" font-family="'Liberation Serif', serif" font-size="13.5" fill="#111" stroke="#111" stroke-width="0.15">μ=0.4</text>
<path d="M477.4 502.9H529.5" stroke="#ffff00" stroke-width="2.3" fill="none"/>
<polygon points="502.9,497.6 506.8,502.9 502.9,508.2 499,502.9" fill="none" stroke="#ffff00" stroke-width="2.3" stroke-linejoin="miter"/>
<text x="535.6" y="507.3" font-family="'Liberation Serif', serif" font-size="13.5" fill="#111" stroke="#111" stroke-width="0.15">μ=0.5</text>
</svg>
</body>
</html>
